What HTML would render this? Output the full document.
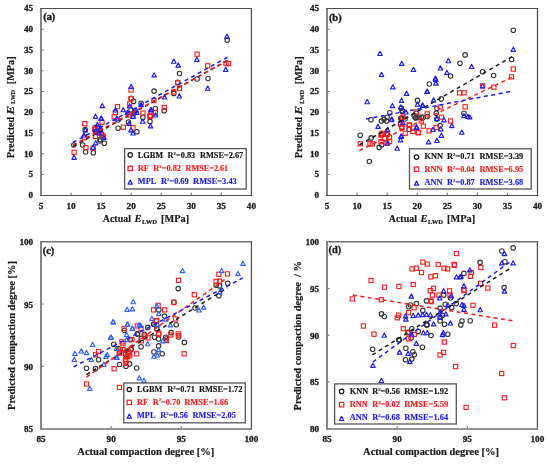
<!DOCTYPE html><html><head><meta charset="utf-8"><style>html,body{margin:0;padding:0;background:#fff;} svg{display:block;will-change:transform;} text{font-family:"Liberation Serif", serif;font-weight:bold;} .tl{font-size:9.2px;fill:#1a1a1a;stroke:#1a1a1a;stroke-width:0.3px;} .fr{fill:none;stroke:#666;stroke-width:1.5;stroke-linejoin:round;} .tk{stroke:#666;stroke-width:1;} .at{font-size:11px;fill:#222;} .pl{font-size:10.4px;fill:#1a1a1a;stroke:#1a1a1a;stroke-width:0.35px;} .lg{font-size:8.3px;}</style></head><body>
<svg width="550" height="464" viewBox="0 0 550 464">
<rect width="550" height="464" fill="#fff"/>
<text x="41.00" y="209.40" class="tl" text-anchor="middle">5</text>
<line x1="71.06" y1="195.2" x2="71.06" y2="192.7" class="tk"/>
<text x="71.06" y="209.40" class="tl" text-anchor="middle">10</text>
<line x1="101.11" y1="195.2" x2="101.11" y2="192.7" class="tk"/>
<text x="101.11" y="209.40" class="tl" text-anchor="middle">15</text>
<line x1="131.17" y1="195.2" x2="131.17" y2="192.7" class="tk"/>
<text x="131.17" y="209.40" class="tl" text-anchor="middle">20</text>
<line x1="161.23" y1="195.2" x2="161.23" y2="192.7" class="tk"/>
<text x="161.23" y="209.40" class="tl" text-anchor="middle">25</text>
<line x1="191.29" y1="195.2" x2="191.29" y2="192.7" class="tk"/>
<text x="191.29" y="209.40" class="tl" text-anchor="middle">30</text>
<line x1="221.34" y1="195.2" x2="221.34" y2="192.7" class="tk"/>
<text x="221.34" y="209.40" class="tl" text-anchor="middle">35</text>
<text x="251.40" y="209.40" class="tl" text-anchor="middle">40</text>
<text x="33.20" y="198.00" class="tl" text-anchor="end">0</text>
<line x1="41.0" y1="174.47" x2="43.5" y2="174.47" class="tk"/>
<text x="33.20" y="177.27" class="tl" text-anchor="end">5</text>
<line x1="41.0" y1="153.73" x2="43.5" y2="153.73" class="tk"/>
<text x="33.20" y="156.53" class="tl" text-anchor="end">10</text>
<line x1="41.0" y1="133.00" x2="43.5" y2="133.00" class="tk"/>
<text x="33.20" y="135.80" class="tl" text-anchor="end">15</text>
<line x1="41.0" y1="112.27" x2="43.5" y2="112.27" class="tk"/>
<text x="33.20" y="115.07" class="tl" text-anchor="end">20</text>
<line x1="41.0" y1="91.53" x2="43.5" y2="91.53" class="tk"/>
<text x="33.20" y="94.33" class="tl" text-anchor="end">25</text>
<line x1="41.0" y1="70.80" x2="43.5" y2="70.80" class="tk"/>
<text x="33.20" y="73.60" class="tl" text-anchor="end">30</text>
<line x1="41.0" y1="50.07" x2="43.5" y2="50.07" class="tk"/>
<text x="33.20" y="52.87" class="tl" text-anchor="end">35</text>
<line x1="41.0" y1="29.33" x2="43.5" y2="29.33" class="tk"/>
<text x="33.20" y="32.13" class="tl" text-anchor="end">40</text>
<text x="33.20" y="11.40" class="tl" text-anchor="end">45</text>
<line x1="41.0" y1="8.0" x2="41.0" y2="196.0" stroke="#858585" stroke-width="2.0"/>
<line x1="251.4" y1="8.0" x2="251.4" y2="196.0" stroke="#555" stroke-width="1.3"/>
<line x1="40.3" y1="8.5" x2="252.1" y2="8.5" stroke="#4d4d4d" stroke-width="1.15"/>
<line x1="40.3" y1="195.5" x2="252.1" y2="195.5" stroke="#4d4d4d" stroke-width="1.15"/>
<text x="327.00" y="209.40" class="tl" text-anchor="middle">5</text>
<line x1="357.07" y1="195.2" x2="357.07" y2="192.7" class="tk"/>
<text x="357.07" y="209.40" class="tl" text-anchor="middle">10</text>
<line x1="387.14" y1="195.2" x2="387.14" y2="192.7" class="tk"/>
<text x="387.14" y="209.40" class="tl" text-anchor="middle">15</text>
<line x1="417.21" y1="195.2" x2="417.21" y2="192.7" class="tk"/>
<text x="417.21" y="209.40" class="tl" text-anchor="middle">20</text>
<line x1="447.29" y1="195.2" x2="447.29" y2="192.7" class="tk"/>
<text x="447.29" y="209.40" class="tl" text-anchor="middle">25</text>
<line x1="477.36" y1="195.2" x2="477.36" y2="192.7" class="tk"/>
<text x="477.36" y="209.40" class="tl" text-anchor="middle">30</text>
<line x1="507.43" y1="195.2" x2="507.43" y2="192.7" class="tk"/>
<text x="507.43" y="209.40" class="tl" text-anchor="middle">35</text>
<text x="537.50" y="209.40" class="tl" text-anchor="middle">40</text>
<text x="319.20" y="198.00" class="tl" text-anchor="end">0</text>
<line x1="327.0" y1="174.47" x2="329.5" y2="174.47" class="tk"/>
<text x="319.20" y="177.27" class="tl" text-anchor="end">5</text>
<line x1="327.0" y1="153.73" x2="329.5" y2="153.73" class="tk"/>
<text x="319.20" y="156.53" class="tl" text-anchor="end">10</text>
<line x1="327.0" y1="133.00" x2="329.5" y2="133.00" class="tk"/>
<text x="319.20" y="135.80" class="tl" text-anchor="end">15</text>
<line x1="327.0" y1="112.27" x2="329.5" y2="112.27" class="tk"/>
<text x="319.20" y="115.07" class="tl" text-anchor="end">20</text>
<line x1="327.0" y1="91.53" x2="329.5" y2="91.53" class="tk"/>
<text x="319.20" y="94.33" class="tl" text-anchor="end">25</text>
<line x1="327.0" y1="70.80" x2="329.5" y2="70.80" class="tk"/>
<text x="319.20" y="73.60" class="tl" text-anchor="end">30</text>
<line x1="327.0" y1="50.07" x2="329.5" y2="50.07" class="tk"/>
<text x="319.20" y="52.87" class="tl" text-anchor="end">35</text>
<line x1="327.0" y1="29.33" x2="329.5" y2="29.33" class="tk"/>
<text x="319.20" y="32.13" class="tl" text-anchor="end">40</text>
<text x="319.20" y="11.40" class="tl" text-anchor="end">45</text>
<line x1="327.0" y1="8.0" x2="327.0" y2="196.0" stroke="#858585" stroke-width="2.0"/>
<line x1="537.5" y1="8.0" x2="537.5" y2="196.0" stroke="#555" stroke-width="1.3"/>
<line x1="326.3" y1="8.5" x2="538.2" y2="8.5" stroke="#4d4d4d" stroke-width="1.15"/>
<line x1="326.3" y1="195.5" x2="538.2" y2="195.5" stroke="#4d4d4d" stroke-width="1.15"/>
<text x="41.00" y="442.00" class="tl" text-anchor="middle">85</text>
<line x1="111.13" y1="428.6" x2="111.13" y2="426.1" class="tk"/>
<text x="111.13" y="442.00" class="tl" text-anchor="middle">90</text>
<line x1="181.27" y1="428.6" x2="181.27" y2="426.1" class="tk"/>
<text x="181.27" y="442.00" class="tl" text-anchor="middle">95</text>
<text x="251.40" y="442.00" class="tl" text-anchor="middle">100</text>
<text x="33.20" y="432.10" class="tl" text-anchor="end">85</text>
<line x1="41.0" y1="366.33" x2="43.5" y2="366.33" class="tk"/>
<text x="33.20" y="369.83" class="tl" text-anchor="end">90</text>
<line x1="41.0" y1="304.07" x2="43.5" y2="304.07" class="tk"/>
<text x="33.20" y="307.57" class="tl" text-anchor="end">95</text>
<text x="33.20" y="245.30" class="tl" text-anchor="end">100</text>
<line x1="41.0" y1="241.2" x2="41.0" y2="429.5" stroke="#858585" stroke-width="2.0"/>
<line x1="251.4" y1="241.2" x2="251.4" y2="429.5" stroke="#555" stroke-width="1.3"/>
<line x1="40.3" y1="241.7" x2="252.1" y2="241.7" stroke="#707070" stroke-width="1.6"/>
<line x1="40.3" y1="429.0" x2="252.1" y2="429.0" stroke="#707070" stroke-width="1.6"/>
<text x="327.00" y="442.00" class="tl" text-anchor="middle">85</text>
<line x1="397.13" y1="428.6" x2="397.13" y2="426.1" class="tk"/>
<text x="397.13" y="442.00" class="tl" text-anchor="middle">90</text>
<line x1="467.27" y1="428.6" x2="467.27" y2="426.1" class="tk"/>
<text x="467.27" y="442.00" class="tl" text-anchor="middle">95</text>
<text x="537.40" y="442.00" class="tl" text-anchor="middle">100</text>
<text x="319.20" y="432.10" class="tl" text-anchor="end">80</text>
<line x1="327.0" y1="381.90" x2="329.5" y2="381.90" class="tk"/>
<text x="319.20" y="385.40" class="tl" text-anchor="end">85</text>
<line x1="327.0" y1="335.20" x2="329.5" y2="335.20" class="tk"/>
<text x="319.20" y="338.70" class="tl" text-anchor="end">90</text>
<line x1="327.0" y1="288.50" x2="329.5" y2="288.50" class="tk"/>
<text x="319.20" y="292.00" class="tl" text-anchor="end">95</text>
<text x="319.20" y="245.30" class="tl" text-anchor="end">100</text>
<line x1="327.0" y1="241.2" x2="327.0" y2="429.5" stroke="#858585" stroke-width="2.0"/>
<line x1="537.4" y1="241.2" x2="537.4" y2="429.5" stroke="#555" stroke-width="1.3"/>
<line x1="326.3" y1="241.7" x2="538.1" y2="241.7" stroke="#707070" stroke-width="1.6"/>
<line x1="326.3" y1="429.0" x2="538.1" y2="429.0" stroke="#707070" stroke-width="1.6"/>
<text x="43.2" y="19.8" class="pl">(a)</text>
<text x="328.9" y="20.6" class="pl">(b)</text>
<text x="42.7" y="253.8" class="pl">(c)</text>
<text x="328.6" y="252.9" class="pl">(d)</text>
<text x="102.70" y="222.00" font-size="10.8px" fill="#1a1a1a" stroke="#1a1a1a" stroke-width="0.2" textLength="28.30" lengthAdjust="spacingAndGlyphs">Actual</text>
<text x="134.60" y="222.00" font-size="10.8px" fill="#1a1a1a" stroke="#1a1a1a" stroke-width="0.2" font-style="italic" textLength="7.00" lengthAdjust="spacingAndGlyphs">E</text>
<text x="142.00" y="223.70" font-size="6.4px" fill="#1a1a1a" stroke="#1a1a1a" stroke-width="0.2" textLength="15.00" lengthAdjust="spacingAndGlyphs">LWD</text>
<text x="161.10" y="222.00" font-size="10.8px" fill="#1a1a1a" stroke="#1a1a1a" stroke-width="0.2" textLength="28.00" lengthAdjust="spacingAndGlyphs">[MPa]</text>
<text x="388.70" y="222.00" font-size="10.8px" fill="#1a1a1a" stroke="#1a1a1a" stroke-width="0.2" textLength="28.30" lengthAdjust="spacingAndGlyphs">Actual</text>
<text x="420.60" y="222.00" font-size="10.8px" fill="#1a1a1a" stroke="#1a1a1a" stroke-width="0.2" font-style="italic" textLength="7.00" lengthAdjust="spacingAndGlyphs">E</text>
<text x="428.00" y="223.70" font-size="6.4px" fill="#1a1a1a" stroke="#1a1a1a" stroke-width="0.2" textLength="15.00" lengthAdjust="spacingAndGlyphs">LWD</text>
<text x="447.10" y="222.00" font-size="10.8px" fill="#1a1a1a" stroke="#1a1a1a" stroke-width="0.2" textLength="28.00" lengthAdjust="spacingAndGlyphs">[MPa]</text>
<g transform="translate(13.5,0) rotate(-90)">
<text x="-158.20" y="0.00" font-size="10.8px" fill="#1a1a1a" stroke="#1a1a1a" stroke-width="0.2" textLength="41.30" lengthAdjust="spacingAndGlyphs">Predicted</text>
<text x="-114.80" y="0.00" font-size="10.8px" fill="#1a1a1a" stroke="#1a1a1a" stroke-width="0.2" font-style="italic" textLength="9.00" lengthAdjust="spacingAndGlyphs">E</text>
<text x="-103.80" y="1.80" font-size="6.8px" fill="#1a1a1a" stroke="#1a1a1a" stroke-width="0.2" textLength="13.80" lengthAdjust="spacingAndGlyphs">LWD</text>
<text x="-84.20" y="0.00" font-size="10.8px" fill="#1a1a1a" stroke="#1a1a1a" stroke-width="0.2" textLength="27.80" lengthAdjust="spacingAndGlyphs">[MPa]</text>
</g>
<g transform="translate(302.1,0) rotate(-90)">
<text x="-158.20" y="0.00" font-size="10.8px" fill="#1a1a1a" stroke="#1a1a1a" stroke-width="0.2" textLength="41.30" lengthAdjust="spacingAndGlyphs">Predicted</text>
<text x="-114.80" y="0.00" font-size="10.8px" fill="#1a1a1a" stroke="#1a1a1a" stroke-width="0.2" font-style="italic" textLength="9.00" lengthAdjust="spacingAndGlyphs">E</text>
<text x="-103.80" y="1.80" font-size="6.8px" fill="#1a1a1a" stroke="#1a1a1a" stroke-width="0.2" textLength="13.80" lengthAdjust="spacingAndGlyphs">LWD</text>
<text x="-84.20" y="0.00" font-size="10.8px" fill="#1a1a1a" stroke="#1a1a1a" stroke-width="0.2" textLength="27.80" lengthAdjust="spacingAndGlyphs">[MPa]</text>
</g>
<text x="77.30" y="455.30" font-size="10.8px" fill="#1a1a1a" stroke="#1a1a1a" stroke-width="0.2" textLength="137.00" lengthAdjust="spacingAndGlyphs">Actual compaction degree [%]</text>
<text x="363.10" y="455.30" font-size="10.8px" fill="#1a1a1a" stroke="#1a1a1a" stroke-width="0.2" textLength="135.80" lengthAdjust="spacingAndGlyphs">Actual compaction degree [%]</text>
<g transform="translate(14.9,0) rotate(-90)">
<text x="-410.00" y="0.00" font-size="10.8px" fill="#1a1a1a" stroke="#1a1a1a" stroke-width="0.2" textLength="149.00" lengthAdjust="spacingAndGlyphs">Predicted compaction degree [%]</text>
</g>
<g transform="translate(301.0,0) rotate(-90)">
<text x="-410.40" y="0.00" font-size="10.8px" fill="#1a1a1a" stroke="#1a1a1a" stroke-width="0.2" textLength="149.40" lengthAdjust="spacingAndGlyphs">Predicted compaction degree &#160;/ %</text>
</g>
<circle cx="227.20" cy="40.10" r="2.25" fill="none" stroke="#333" stroke-width="1.1"/>
<circle cx="179.50" cy="73.50" r="2.25" fill="none" stroke="#333" stroke-width="1.1"/>
<circle cx="197.10" cy="79.00" r="2.25" fill="none" stroke="#333" stroke-width="1.1"/>
<circle cx="208.00" cy="78.50" r="2.25" fill="none" stroke="#333" stroke-width="1.1"/>
<circle cx="177.70" cy="82.40" r="2.25" fill="none" stroke="#333" stroke-width="1.1"/>
<circle cx="173.80" cy="93.40" r="2.25" fill="none" stroke="#333" stroke-width="1.1"/>
<circle cx="164.20" cy="110.80" r="2.25" fill="none" stroke="#333" stroke-width="1.1"/>
<circle cx="154.10" cy="91.10" r="2.25" fill="none" stroke="#333" stroke-width="1.1"/>
<circle cx="131.10" cy="98.20" r="2.25" fill="none" stroke="#333" stroke-width="1.1"/>
<circle cx="133.60" cy="101.40" r="2.25" fill="none" stroke="#333" stroke-width="1.1"/>
<circle cx="141.10" cy="103.30" r="2.25" fill="none" stroke="#333" stroke-width="1.1"/>
<circle cx="155.40" cy="108.50" r="2.25" fill="none" stroke="#333" stroke-width="1.1"/>
<circle cx="142.90" cy="117.40" r="2.25" fill="none" stroke="#333" stroke-width="1.1"/>
<circle cx="131.00" cy="109.70" r="2.25" fill="none" stroke="#333" stroke-width="1.1"/>
<circle cx="134.30" cy="112.90" r="2.25" fill="none" stroke="#333" stroke-width="1.1"/>
<circle cx="128.50" cy="122.00" r="2.25" fill="none" stroke="#333" stroke-width="1.1"/>
<circle cx="118.10" cy="120.00" r="2.25" fill="none" stroke="#333" stroke-width="1.1"/>
<circle cx="118.10" cy="128.20" r="2.25" fill="none" stroke="#333" stroke-width="1.1"/>
<circle cx="136.90" cy="131.70" r="2.25" fill="none" stroke="#333" stroke-width="1.1"/>
<circle cx="150.00" cy="121.40" r="2.25" fill="none" stroke="#333" stroke-width="1.1"/>
<circle cx="98.80" cy="127.30" r="2.25" fill="none" stroke="#333" stroke-width="1.1"/>
<circle cx="101.30" cy="133.80" r="2.25" fill="none" stroke="#333" stroke-width="1.1"/>
<circle cx="100.00" cy="139.60" r="2.25" fill="none" stroke="#333" stroke-width="1.1"/>
<circle cx="104.30" cy="143.30" r="2.25" fill="none" stroke="#333" stroke-width="1.1"/>
<circle cx="85.20" cy="129.60" r="2.25" fill="none" stroke="#333" stroke-width="1.1"/>
<circle cx="82.70" cy="145.00" r="2.25" fill="none" stroke="#333" stroke-width="1.1"/>
<circle cx="85.60" cy="152.00" r="2.25" fill="none" stroke="#333" stroke-width="1.1"/>
<circle cx="93.30" cy="152.80" r="2.25" fill="none" stroke="#333" stroke-width="1.1"/>
<circle cx="73.80" cy="145.00" r="2.25" fill="none" stroke="#333" stroke-width="1.1"/>
<circle cx="95.20" cy="127.50" r="2.25" fill="none" stroke="#333" stroke-width="1.1"/>
<circle cx="100.00" cy="141.00" r="2.25" fill="none" stroke="#333" stroke-width="1.1"/>
<rect x="223.90" y="61.50" width="4.20" height="4.20" fill="none" stroke="#ff1a1a" stroke-width="1.1"/>
<rect x="226.40" y="61.50" width="4.20" height="4.20" fill="none" stroke="#ff1a1a" stroke-width="1.1"/>
<rect x="195.00" y="52.10" width="4.20" height="4.20" fill="none" stroke="#ff1a1a" stroke-width="1.1"/>
<rect x="205.60" y="63.70" width="4.20" height="4.20" fill="none" stroke="#ff1a1a" stroke-width="1.1"/>
<rect x="175.60" y="80.70" width="4.20" height="4.20" fill="none" stroke="#ff1a1a" stroke-width="1.1"/>
<rect x="177.40" y="86.20" width="4.20" height="4.20" fill="none" stroke="#ff1a1a" stroke-width="1.1"/>
<rect x="171.70" y="89.90" width="4.20" height="4.20" fill="none" stroke="#ff1a1a" stroke-width="1.1"/>
<rect x="162.20" y="105.40" width="4.20" height="4.20" fill="none" stroke="#ff1a1a" stroke-width="1.1"/>
<rect x="151.80" y="98.40" width="4.20" height="4.20" fill="none" stroke="#ff1a1a" stroke-width="1.1"/>
<rect x="129.00" y="87.90" width="4.20" height="4.20" fill="none" stroke="#ff1a1a" stroke-width="1.1"/>
<rect x="129.00" y="96.70" width="4.20" height="4.20" fill="none" stroke="#ff1a1a" stroke-width="1.1"/>
<rect x="115.40" y="104.50" width="4.20" height="4.20" fill="none" stroke="#ff1a1a" stroke-width="1.1"/>
<rect x="127.60" y="101.90" width="4.20" height="4.20" fill="none" stroke="#ff1a1a" stroke-width="1.1"/>
<rect x="113.30" y="110.40" width="4.20" height="4.20" fill="none" stroke="#ff1a1a" stroke-width="1.1"/>
<rect x="112.10" y="114.70" width="4.20" height="4.20" fill="none" stroke="#ff1a1a" stroke-width="1.1"/>
<rect x="127.00" y="112.80" width="4.20" height="4.20" fill="none" stroke="#ff1a1a" stroke-width="1.1"/>
<rect x="140.80" y="111.10" width="4.20" height="4.20" fill="none" stroke="#ff1a1a" stroke-width="1.1"/>
<rect x="148.40" y="113.50" width="4.20" height="4.20" fill="none" stroke="#ff1a1a" stroke-width="1.1"/>
<rect x="153.30" y="110.70" width="4.20" height="4.20" fill="none" stroke="#ff1a1a" stroke-width="1.1"/>
<rect x="148.80" y="110.20" width="4.20" height="4.20" fill="none" stroke="#ff1a1a" stroke-width="1.1"/>
<rect x="147.70" y="114.30" width="4.20" height="4.20" fill="none" stroke="#ff1a1a" stroke-width="1.1"/>
<rect x="121.20" y="125.10" width="4.20" height="4.20" fill="none" stroke="#ff1a1a" stroke-width="1.1"/>
<rect x="130.90" y="125.70" width="4.20" height="4.20" fill="none" stroke="#ff1a1a" stroke-width="1.1"/>
<rect x="130.90" y="114.10" width="4.20" height="4.20" fill="none" stroke="#ff1a1a" stroke-width="1.1"/>
<rect x="99.90" y="120.30" width="4.20" height="4.20" fill="none" stroke="#ff1a1a" stroke-width="1.1"/>
<rect x="82.70" y="121.60" width="4.20" height="4.20" fill="none" stroke="#ff1a1a" stroke-width="1.1"/>
<rect x="93.40" y="127.10" width="4.20" height="4.20" fill="none" stroke="#ff1a1a" stroke-width="1.1"/>
<rect x="96.70" y="130.40" width="4.20" height="4.20" fill="none" stroke="#ff1a1a" stroke-width="1.1"/>
<rect x="93.40" y="134.40" width="4.20" height="4.20" fill="none" stroke="#ff1a1a" stroke-width="1.1"/>
<rect x="101.20" y="134.20" width="4.20" height="4.20" fill="none" stroke="#ff1a1a" stroke-width="1.1"/>
<rect x="82.40" y="135.50" width="4.20" height="4.20" fill="none" stroke="#ff1a1a" stroke-width="1.1"/>
<rect x="83.80" y="145.60" width="4.20" height="4.20" fill="none" stroke="#ff1a1a" stroke-width="1.1"/>
<rect x="91.10" y="146.10" width="4.20" height="4.20" fill="none" stroke="#ff1a1a" stroke-width="1.1"/>
<rect x="72.00" y="150.20" width="4.20" height="4.20" fill="none" stroke="#ff1a1a" stroke-width="1.1"/>
<rect x="92.50" y="127.30" width="4.20" height="4.20" fill="none" stroke="#ff1a1a" stroke-width="1.1"/>
<rect x="97.90" y="128.40" width="4.20" height="4.20" fill="none" stroke="#ff1a1a" stroke-width="1.1"/>
<rect x="99.80" y="132.80" width="4.20" height="4.20" fill="none" stroke="#ff1a1a" stroke-width="1.1"/>
<path d="M226.90,34.16 L229.15,38.32 L224.65,38.32 Z" fill="none" stroke="#1a1aff" stroke-width="1.15" stroke-linejoin="round"/>
<path d="M196.80,57.16 L199.05,61.32 L194.55,61.32 Z" fill="none" stroke="#1a1aff" stroke-width="1.15" stroke-linejoin="round"/>
<path d="M173.80,59.06 L176.05,63.23 L171.55,63.23 Z" fill="none" stroke="#1a1aff" stroke-width="1.15" stroke-linejoin="round"/>
<path d="M178.20,62.96 L180.45,67.12 L175.95,67.12 Z" fill="none" stroke="#1a1aff" stroke-width="1.15" stroke-linejoin="round"/>
<path d="M225.70,67.36 L227.95,71.53 L223.45,71.53 Z" fill="none" stroke="#1a1aff" stroke-width="1.15" stroke-linejoin="round"/>
<path d="M207.70,86.06 L209.95,90.23 L205.45,90.23 Z" fill="none" stroke="#1a1aff" stroke-width="1.15" stroke-linejoin="round"/>
<path d="M179.30,93.86 L181.55,98.03 L177.05,98.03 Z" fill="none" stroke="#1a1aff" stroke-width="1.15" stroke-linejoin="round"/>
<path d="M164.50,94.86 L166.75,99.03 L162.25,99.03 Z" fill="none" stroke="#1a1aff" stroke-width="1.15" stroke-linejoin="round"/>
<path d="M154.10,72.76 L156.35,76.93 L151.85,76.93 Z" fill="none" stroke="#1a1aff" stroke-width="1.15" stroke-linejoin="round"/>
<path d="M131.10,84.36 L133.35,88.53 L128.85,88.53 Z" fill="none" stroke="#1a1aff" stroke-width="1.15" stroke-linejoin="round"/>
<path d="M141.10,102.46 L143.35,106.62 L138.85,106.62 Z" fill="none" stroke="#1a1aff" stroke-width="1.15" stroke-linejoin="round"/>
<path d="M123.20,107.56 L125.45,111.73 L120.95,111.73 Z" fill="none" stroke="#1a1aff" stroke-width="1.15" stroke-linejoin="round"/>
<path d="M102.30,103.46 L104.55,107.62 L100.05,107.62 Z" fill="none" stroke="#1a1aff" stroke-width="1.15" stroke-linejoin="round"/>
<path d="M129.60,103.86 L131.85,108.03 L127.35,108.03 Z" fill="none" stroke="#1a1aff" stroke-width="1.15" stroke-linejoin="round"/>
<path d="M115.40,107.86 L117.65,112.03 L113.15,112.03 Z" fill="none" stroke="#1a1aff" stroke-width="1.15" stroke-linejoin="round"/>
<path d="M136.10,107.66 L138.35,111.83 L133.85,111.83 Z" fill="none" stroke="#1a1aff" stroke-width="1.15" stroke-linejoin="round"/>
<path d="M151.10,107.86 L153.35,112.03 L148.85,112.03 Z" fill="none" stroke="#1a1aff" stroke-width="1.15" stroke-linejoin="round"/>
<path d="M155.50,112.86 L157.75,117.03 L153.25,117.03 Z" fill="none" stroke="#1a1aff" stroke-width="1.15" stroke-linejoin="round"/>
<path d="M127.50,110.26 L129.75,114.43 L125.25,114.43 Z" fill="none" stroke="#1a1aff" stroke-width="1.15" stroke-linejoin="round"/>
<path d="M133.00,114.16 L135.25,118.33 L130.75,118.33 Z" fill="none" stroke="#1a1aff" stroke-width="1.15" stroke-linejoin="round"/>
<path d="M136.90,110.16 L139.15,114.33 L134.65,114.33 Z" fill="none" stroke="#1a1aff" stroke-width="1.15" stroke-linejoin="round"/>
<path d="M116.80,115.96 L119.05,120.12 L114.55,120.12 Z" fill="none" stroke="#1a1aff" stroke-width="1.15" stroke-linejoin="round"/>
<path d="M142.70,119.06 L144.95,123.23 L140.45,123.23 Z" fill="none" stroke="#1a1aff" stroke-width="1.15" stroke-linejoin="round"/>
<path d="M129.10,121.16 L131.35,125.33 L126.85,125.33 Z" fill="none" stroke="#1a1aff" stroke-width="1.15" stroke-linejoin="round"/>
<path d="M131.00,127.66 L133.25,131.83 L128.75,131.83 Z" fill="none" stroke="#1a1aff" stroke-width="1.15" stroke-linejoin="round"/>
<path d="M133.00,130.86 L135.25,135.03 L130.75,135.03 Z" fill="none" stroke="#1a1aff" stroke-width="1.15" stroke-linejoin="round"/>
<path d="M150.50,123.76 L152.75,127.93 L148.25,127.93 Z" fill="none" stroke="#1a1aff" stroke-width="1.15" stroke-linejoin="round"/>
<path d="M150.90,107.36 L153.15,111.53 L148.65,111.53 Z" fill="none" stroke="#1a1aff" stroke-width="1.15" stroke-linejoin="round"/>
<path d="M95.50,114.16 L97.75,118.33 L93.25,118.33 Z" fill="none" stroke="#1a1aff" stroke-width="1.15" stroke-linejoin="round"/>
<path d="M101.10,116.16 L103.35,120.33 L98.85,120.33 Z" fill="none" stroke="#1a1aff" stroke-width="1.15" stroke-linejoin="round"/>
<path d="M97.50,122.36 L99.75,126.53 L95.25,126.53 Z" fill="none" stroke="#1a1aff" stroke-width="1.15" stroke-linejoin="round"/>
<path d="M85.20,127.76 L87.45,131.93 L82.95,131.93 Z" fill="none" stroke="#1a1aff" stroke-width="1.15" stroke-linejoin="round"/>
<path d="M100.00,126.46 L102.25,130.62 L97.75,130.62 Z" fill="none" stroke="#1a1aff" stroke-width="1.15" stroke-linejoin="round"/>
<path d="M103.90,135.46 L106.15,139.62 L101.65,139.62 Z" fill="none" stroke="#1a1aff" stroke-width="1.15" stroke-linejoin="round"/>
<path d="M95.70,140.66 L97.95,144.83 L93.45,144.83 Z" fill="none" stroke="#1a1aff" stroke-width="1.15" stroke-linejoin="round"/>
<path d="M83.90,132.86 L86.15,137.03 L81.65,137.03 Z" fill="none" stroke="#1a1aff" stroke-width="1.15" stroke-linejoin="round"/>
<path d="M93.00,145.16 L95.25,149.33 L90.75,149.33 Z" fill="none" stroke="#1a1aff" stroke-width="1.15" stroke-linejoin="round"/>
<path d="M74.10,155.16 L76.35,159.33 L71.85,159.33 Z" fill="none" stroke="#1a1aff" stroke-width="1.15" stroke-linejoin="round"/>
<path d="M101.30,115.96 L103.55,120.12 L99.05,120.12 Z" fill="none" stroke="#1a1aff" stroke-width="1.15" stroke-linejoin="round"/>
<path d="M100.60,125.66 L102.85,129.82 L98.35,129.82 Z" fill="none" stroke="#1a1aff" stroke-width="1.15" stroke-linejoin="round"/>
<path d="M100.50,127.86 L102.75,132.03 L98.25,132.03 Z" fill="none" stroke="#1a1aff" stroke-width="1.15" stroke-linejoin="round"/>
<path d="M99.00,130.86 L101.25,135.03 L96.75,135.03 Z" fill="none" stroke="#1a1aff" stroke-width="1.15" stroke-linejoin="round"/>
<path d="M95.80,128.56 L98.05,132.72 L93.55,132.72 Z" fill="none" stroke="#1a1aff" stroke-width="1.15" stroke-linejoin="round"/>
<line x1="73" y1="146.5" x2="228" y2="60" stroke="#1a1a1a" stroke-width="1.5" stroke-dasharray="4 3.5"/>
<line x1="73" y1="145" x2="228" y2="60.5" stroke="#ff1a1a" stroke-width="1.5" stroke-dasharray="4 3.5"/>
<line x1="73" y1="142.5" x2="228" y2="57" stroke="#1a1aff" stroke-width="1.5" stroke-dasharray="4 3.5"/>
<circle cx="513.30" cy="30.30" r="2.25" fill="none" stroke="#333" stroke-width="1.1"/>
<circle cx="465.10" cy="54.90" r="2.25" fill="none" stroke="#333" stroke-width="1.1"/>
<circle cx="460.00" cy="63.30" r="2.25" fill="none" stroke="#333" stroke-width="1.1"/>
<circle cx="450.50" cy="76.00" r="2.25" fill="none" stroke="#333" stroke-width="1.1"/>
<circle cx="482.50" cy="71.70" r="2.25" fill="none" stroke="#333" stroke-width="1.1"/>
<circle cx="493.60" cy="75.50" r="2.25" fill="none" stroke="#333" stroke-width="1.1"/>
<circle cx="511.60" cy="59.50" r="2.25" fill="none" stroke="#333" stroke-width="1.1"/>
<circle cx="441.30" cy="98.90" r="2.25" fill="none" stroke="#333" stroke-width="1.1"/>
<circle cx="429.30" cy="84.00" r="2.25" fill="none" stroke="#333" stroke-width="1.1"/>
<circle cx="417.50" cy="100.40" r="2.25" fill="none" stroke="#333" stroke-width="1.1"/>
<circle cx="436.90" cy="108.50" r="2.25" fill="none" stroke="#333" stroke-width="1.1"/>
<circle cx="436.20" cy="113.30" r="2.25" fill="none" stroke="#333" stroke-width="1.1"/>
<circle cx="436.90" cy="119.10" r="2.25" fill="none" stroke="#333" stroke-width="1.1"/>
<circle cx="440.10" cy="125.60" r="2.25" fill="none" stroke="#333" stroke-width="1.1"/>
<circle cx="464.00" cy="113.20" r="2.25" fill="none" stroke="#333" stroke-width="1.1"/>
<circle cx="401.30" cy="108.10" r="2.25" fill="none" stroke="#333" stroke-width="1.1"/>
<circle cx="402.60" cy="110.70" r="2.25" fill="none" stroke="#333" stroke-width="1.1"/>
<circle cx="416.20" cy="113.30" r="2.25" fill="none" stroke="#333" stroke-width="1.1"/>
<circle cx="414.20" cy="115.90" r="2.25" fill="none" stroke="#333" stroke-width="1.1"/>
<circle cx="415.50" cy="117.80" r="2.25" fill="none" stroke="#333" stroke-width="1.1"/>
<circle cx="418.10" cy="117.20" r="2.25" fill="none" stroke="#333" stroke-width="1.1"/>
<circle cx="421.30" cy="117.20" r="2.25" fill="none" stroke="#333" stroke-width="1.1"/>
<circle cx="423.30" cy="117.20" r="2.25" fill="none" stroke="#333" stroke-width="1.1"/>
<circle cx="427.20" cy="116.50" r="2.25" fill="none" stroke="#333" stroke-width="1.1"/>
<circle cx="409.10" cy="129.50" r="2.25" fill="none" stroke="#333" stroke-width="1.1"/>
<circle cx="401.80" cy="118.40" r="2.25" fill="none" stroke="#333" stroke-width="1.1"/>
<circle cx="405.00" cy="119.00" r="2.25" fill="none" stroke="#333" stroke-width="1.1"/>
<circle cx="389.80" cy="112.70" r="2.25" fill="none" stroke="#333" stroke-width="1.1"/>
<circle cx="387.20" cy="117.20" r="2.25" fill="none" stroke="#333" stroke-width="1.1"/>
<circle cx="384.00" cy="119.20" r="2.25" fill="none" stroke="#333" stroke-width="1.1"/>
<circle cx="381.40" cy="121.10" r="2.25" fill="none" stroke="#333" stroke-width="1.1"/>
<circle cx="386.60" cy="121.10" r="2.25" fill="none" stroke="#333" stroke-width="1.1"/>
<circle cx="371.00" cy="119.80" r="2.25" fill="none" stroke="#333" stroke-width="1.1"/>
<circle cx="360.20" cy="135.30" r="2.25" fill="none" stroke="#333" stroke-width="1.1"/>
<circle cx="371.20" cy="137.90" r="2.25" fill="none" stroke="#333" stroke-width="1.1"/>
<circle cx="369.40" cy="161.50" r="2.25" fill="none" stroke="#333" stroke-width="1.1"/>
<circle cx="379.10" cy="147.40" r="2.25" fill="none" stroke="#333" stroke-width="1.1"/>
<circle cx="381.70" cy="144.90" r="2.25" fill="none" stroke="#333" stroke-width="1.1"/>
<circle cx="387.50" cy="134.60" r="2.25" fill="none" stroke="#333" stroke-width="1.1"/>
<circle cx="400.80" cy="118.50" r="2.25" fill="none" stroke="#333" stroke-width="1.1"/>
<circle cx="402.10" cy="111.40" r="2.25" fill="none" stroke="#333" stroke-width="1.1"/>
<circle cx="416.00" cy="117.80" r="2.25" fill="none" stroke="#333" stroke-width="1.1"/>
<rect x="511.20" y="67.00" width="4.20" height="4.20" fill="none" stroke="#ff1a1a" stroke-width="1.1"/>
<rect x="509.40" y="74.70" width="4.20" height="4.20" fill="none" stroke="#ff1a1a" stroke-width="1.1"/>
<rect x="457.50" y="90.70" width="4.20" height="4.20" fill="none" stroke="#ff1a1a" stroke-width="1.1"/>
<rect x="462.00" y="90.70" width="4.20" height="4.20" fill="none" stroke="#ff1a1a" stroke-width="1.1"/>
<rect x="463.10" y="104.70" width="4.20" height="4.20" fill="none" stroke="#ff1a1a" stroke-width="1.1"/>
<rect x="438.10" y="104.90" width="4.20" height="4.20" fill="none" stroke="#ff1a1a" stroke-width="1.1"/>
<rect x="491.80" y="85.10" width="4.20" height="4.20" fill="none" stroke="#ff1a1a" stroke-width="1.1"/>
<rect x="480.50" y="83.80" width="4.20" height="4.20" fill="none" stroke="#ff1a1a" stroke-width="1.1"/>
<rect x="400.70" y="115.10" width="4.20" height="4.20" fill="none" stroke="#ff1a1a" stroke-width="1.1"/>
<rect x="414.70" y="109.90" width="4.20" height="4.20" fill="none" stroke="#ff1a1a" stroke-width="1.1"/>
<rect x="425.10" y="111.80" width="4.20" height="4.20" fill="none" stroke="#ff1a1a" stroke-width="1.1"/>
<rect x="419.20" y="118.90" width="4.20" height="4.20" fill="none" stroke="#ff1a1a" stroke-width="1.1"/>
<rect x="421.20" y="124.10" width="4.20" height="4.20" fill="none" stroke="#ff1a1a" stroke-width="1.1"/>
<rect x="416.00" y="130.60" width="4.20" height="4.20" fill="none" stroke="#ff1a1a" stroke-width="1.1"/>
<rect x="407.00" y="122.80" width="4.20" height="4.20" fill="none" stroke="#ff1a1a" stroke-width="1.1"/>
<rect x="403.10" y="131.20" width="4.20" height="4.20" fill="none" stroke="#ff1a1a" stroke-width="1.1"/>
<rect x="399.80" y="125.40" width="4.20" height="4.20" fill="none" stroke="#ff1a1a" stroke-width="1.1"/>
<rect x="410.80" y="129.30" width="4.20" height="4.20" fill="none" stroke="#ff1a1a" stroke-width="1.1"/>
<rect x="427.00" y="128.70" width="4.20" height="4.20" fill="none" stroke="#ff1a1a" stroke-width="1.1"/>
<rect x="434.10" y="125.40" width="4.20" height="4.20" fill="none" stroke="#ff1a1a" stroke-width="1.1"/>
<rect x="439.30" y="115.10" width="4.20" height="4.20" fill="none" stroke="#ff1a1a" stroke-width="1.1"/>
<rect x="448.40" y="118.90" width="4.20" height="4.20" fill="none" stroke="#ff1a1a" stroke-width="1.1"/>
<rect x="399.70" y="124.70" width="4.20" height="4.20" fill="none" stroke="#ff1a1a" stroke-width="1.1"/>
<rect x="398.40" y="122.10" width="4.20" height="4.20" fill="none" stroke="#ff1a1a" stroke-width="1.1"/>
<rect x="407.40" y="123.40" width="4.20" height="4.20" fill="none" stroke="#ff1a1a" stroke-width="1.1"/>
<rect x="411.30" y="126.00" width="4.20" height="4.20" fill="none" stroke="#ff1a1a" stroke-width="1.1"/>
<rect x="416.50" y="130.50" width="4.20" height="4.20" fill="none" stroke="#ff1a1a" stroke-width="1.1"/>
<rect x="380.20" y="131.20" width="4.20" height="4.20" fill="none" stroke="#ff1a1a" stroke-width="1.1"/>
<rect x="378.90" y="133.10" width="4.20" height="4.20" fill="none" stroke="#ff1a1a" stroke-width="1.1"/>
<rect x="387.40" y="135.10" width="4.20" height="4.20" fill="none" stroke="#ff1a1a" stroke-width="1.1"/>
<rect x="378.90" y="139.60" width="4.20" height="4.20" fill="none" stroke="#ff1a1a" stroke-width="1.1"/>
<rect x="384.80" y="140.90" width="4.20" height="4.20" fill="none" stroke="#ff1a1a" stroke-width="1.1"/>
<rect x="358.10" y="141.70" width="4.20" height="4.20" fill="none" stroke="#ff1a1a" stroke-width="1.1"/>
<rect x="367.90" y="141.70" width="4.20" height="4.20" fill="none" stroke="#ff1a1a" stroke-width="1.1"/>
<rect x="370.20" y="141.70" width="4.20" height="4.20" fill="none" stroke="#ff1a1a" stroke-width="1.1"/>
<rect x="379.60" y="132.60" width="4.20" height="4.20" fill="none" stroke="#ff1a1a" stroke-width="1.1"/>
<rect x="384.40" y="131.90" width="4.20" height="4.20" fill="none" stroke="#ff1a1a" stroke-width="1.1"/>
<rect x="387.50" y="139.40" width="4.20" height="4.20" fill="none" stroke="#ff1a1a" stroke-width="1.1"/>
<rect x="382.40" y="136.40" width="4.20" height="4.20" fill="none" stroke="#ff1a1a" stroke-width="1.1"/>
<path d="M380.00,51.36 L382.25,55.52 L377.75,55.52 Z" fill="none" stroke="#1a1aff" stroke-width="1.15" stroke-linejoin="round"/>
<path d="M401.80,61.16 L404.05,65.33 L399.55,65.33 Z" fill="none" stroke="#1a1aff" stroke-width="1.15" stroke-linejoin="round"/>
<path d="M413.50,67.36 L415.75,71.53 L411.25,71.53 Z" fill="none" stroke="#1a1aff" stroke-width="1.15" stroke-linejoin="round"/>
<path d="M381.50,72.36 L383.75,76.53 L379.25,76.53 Z" fill="none" stroke="#1a1aff" stroke-width="1.15" stroke-linejoin="round"/>
<path d="M448.40,58.56 L450.65,62.73 L446.15,62.73 Z" fill="none" stroke="#1a1aff" stroke-width="1.15" stroke-linejoin="round"/>
<path d="M440.40,65.86 L442.65,70.03 L438.15,70.03 Z" fill="none" stroke="#1a1aff" stroke-width="1.15" stroke-linejoin="round"/>
<path d="M471.60,64.36 L473.85,68.53 L469.35,68.53 Z" fill="none" stroke="#1a1aff" stroke-width="1.15" stroke-linejoin="round"/>
<path d="M446.90,70.26 L449.15,74.43 L444.65,74.43 Z" fill="none" stroke="#1a1aff" stroke-width="1.15" stroke-linejoin="round"/>
<path d="M435.30,76.06 L437.55,80.23 L433.05,80.23 Z" fill="none" stroke="#1a1aff" stroke-width="1.15" stroke-linejoin="round"/>
<path d="M513.30,47.16 L515.55,51.32 L511.05,51.32 Z" fill="none" stroke="#1a1aff" stroke-width="1.15" stroke-linejoin="round"/>
<path d="M435.80,77.16 L438.05,81.33 L433.55,81.33 Z" fill="none" stroke="#1a1aff" stroke-width="1.15" stroke-linejoin="round"/>
<path d="M435.80,80.96 L438.05,85.12 L433.55,85.12 Z" fill="none" stroke="#1a1aff" stroke-width="1.15" stroke-linejoin="round"/>
<path d="M427.10,89.16 L429.35,93.33 L424.85,93.33 Z" fill="none" stroke="#1a1aff" stroke-width="1.15" stroke-linejoin="round"/>
<path d="M433.60,97.86 L435.85,102.03 L431.35,102.03 Z" fill="none" stroke="#1a1aff" stroke-width="1.15" stroke-linejoin="round"/>
<path d="M422.70,102.76 L424.95,106.93 L420.45,106.93 Z" fill="none" stroke="#1a1aff" stroke-width="1.15" stroke-linejoin="round"/>
<path d="M482.60,83.76 L484.85,87.93 L480.35,87.93 Z" fill="none" stroke="#1a1aff" stroke-width="1.15" stroke-linejoin="round"/>
<path d="M463.90,113.46 L466.15,117.62 L461.65,117.62 Z" fill="none" stroke="#1a1aff" stroke-width="1.15" stroke-linejoin="round"/>
<path d="M469.70,114.76 L471.95,118.93 L467.45,118.93 Z" fill="none" stroke="#1a1aff" stroke-width="1.15" stroke-linejoin="round"/>
<path d="M392.80,84.66 L395.05,88.83 L390.55,88.83 Z" fill="none" stroke="#1a1aff" stroke-width="1.15" stroke-linejoin="round"/>
<path d="M406.60,91.16 L408.85,95.33 L404.35,95.33 Z" fill="none" stroke="#1a1aff" stroke-width="1.15" stroke-linejoin="round"/>
<path d="M367.20,99.56 L369.45,103.73 L364.95,103.73 Z" fill="none" stroke="#1a1aff" stroke-width="1.15" stroke-linejoin="round"/>
<path d="M401.50,98.26 L403.75,102.43 L399.25,102.43 Z" fill="none" stroke="#1a1aff" stroke-width="1.15" stroke-linejoin="round"/>
<path d="M392.40,103.46 L394.65,107.62 L390.15,107.62 Z" fill="none" stroke="#1a1aff" stroke-width="1.15" stroke-linejoin="round"/>
<path d="M400.80,104.76 L403.05,108.93 L398.55,108.93 Z" fill="none" stroke="#1a1aff" stroke-width="1.15" stroke-linejoin="round"/>
<path d="M406.00,109.86 L408.25,114.03 L403.75,114.03 Z" fill="none" stroke="#1a1aff" stroke-width="1.15" stroke-linejoin="round"/>
<path d="M391.80,117.06 L394.05,121.23 L389.55,121.23 Z" fill="none" stroke="#1a1aff" stroke-width="1.15" stroke-linejoin="round"/>
<path d="M402.80,120.26 L405.05,124.43 L400.55,124.43 Z" fill="none" stroke="#1a1aff" stroke-width="1.15" stroke-linejoin="round"/>
<path d="M378.00,124.26 L380.25,128.43 L375.75,128.43 Z" fill="none" stroke="#1a1aff" stroke-width="1.15" stroke-linejoin="round"/>
<path d="M391.40,117.56 L393.65,121.73 L389.15,121.73 Z" fill="none" stroke="#1a1aff" stroke-width="1.15" stroke-linejoin="round"/>
<path d="M387.50,127.26 L389.75,131.43 L385.25,131.43 Z" fill="none" stroke="#1a1aff" stroke-width="1.15" stroke-linejoin="round"/>
<path d="M387.50,140.86 L389.75,145.03 L385.25,145.03 Z" fill="none" stroke="#1a1aff" stroke-width="1.15" stroke-linejoin="round"/>
<path d="M401.10,134.36 L403.35,138.53 L398.85,138.53 Z" fill="none" stroke="#1a1aff" stroke-width="1.15" stroke-linejoin="round"/>
<path d="M400.50,137.66 L402.75,141.83 L398.25,141.83 Z" fill="none" stroke="#1a1aff" stroke-width="1.15" stroke-linejoin="round"/>
<path d="M397.20,146.06 L399.45,150.22 L394.95,150.22 Z" fill="none" stroke="#1a1aff" stroke-width="1.15" stroke-linejoin="round"/>
<path d="M416.60,124.66 L418.85,128.82 L414.35,128.82 Z" fill="none" stroke="#1a1aff" stroke-width="1.15" stroke-linejoin="round"/>
<path d="M417.50,102.06 L419.75,106.23 L415.25,106.23 Z" fill="none" stroke="#1a1aff" stroke-width="1.15" stroke-linejoin="round"/>
<path d="M422.60,103.36 L424.85,107.53 L420.35,107.53 Z" fill="none" stroke="#1a1aff" stroke-width="1.15" stroke-linejoin="round"/>
<path d="M401.30,133.76 L403.55,137.93 L399.05,137.93 Z" fill="none" stroke="#1a1aff" stroke-width="1.15" stroke-linejoin="round"/>
<path d="M416.80,125.36 L419.05,129.53 L414.55,129.53 Z" fill="none" stroke="#1a1aff" stroke-width="1.15" stroke-linejoin="round"/>
<path d="M433.00,127.36 L435.25,131.53 L430.75,131.53 Z" fill="none" stroke="#1a1aff" stroke-width="1.15" stroke-linejoin="round"/>
<path d="M440.80,126.66 L443.05,130.83 L438.55,130.83 Z" fill="none" stroke="#1a1aff" stroke-width="1.15" stroke-linejoin="round"/>
<path d="M441.40,133.16 L443.65,137.33 L439.15,137.33 Z" fill="none" stroke="#1a1aff" stroke-width="1.15" stroke-linejoin="round"/>
<path d="M436.90,116.36 L439.15,120.53 L434.65,120.53 Z" fill="none" stroke="#1a1aff" stroke-width="1.15" stroke-linejoin="round"/>
<path d="M444.00,117.66 L446.25,121.83 L441.75,121.83 Z" fill="none" stroke="#1a1aff" stroke-width="1.15" stroke-linejoin="round"/>
<path d="M451.80,123.46 L454.05,127.62 L449.55,127.62 Z" fill="none" stroke="#1a1aff" stroke-width="1.15" stroke-linejoin="round"/>
<path d="M461.80,130.06 L464.05,134.22 L459.55,134.22 Z" fill="none" stroke="#1a1aff" stroke-width="1.15" stroke-linejoin="round"/>
<path d="M428.50,139.66 L430.75,143.83 L426.25,143.83 Z" fill="none" stroke="#1a1aff" stroke-width="1.15" stroke-linejoin="round"/>
<path d="M436.90,138.36 L439.15,142.53 L434.65,142.53 Z" fill="none" stroke="#1a1aff" stroke-width="1.15" stroke-linejoin="round"/>
<path d="M467.90,114.36 L470.15,118.53 L465.65,118.53 Z" fill="none" stroke="#1a1aff" stroke-width="1.15" stroke-linejoin="round"/>
<path d="M427.20,89.16 L429.45,93.33 L424.95,93.33 Z" fill="none" stroke="#1a1aff" stroke-width="1.15" stroke-linejoin="round"/>
<line x1="359.4" y1="145" x2="512.7" y2="56.4" stroke="#1a1a1a" stroke-width="1.5" stroke-dasharray="4 3.5"/>
<line x1="359.4" y1="150.5" x2="513" y2="76.8" stroke="#ff1a1a" stroke-width="1.5" stroke-dasharray="4 3.5"/>
<line x1="366" y1="119" x2="513" y2="91" stroke="#1a1aff" stroke-width="1.5" stroke-dasharray="4 3.5"/>
<circle cx="227.70" cy="283.20" r="2.25" fill="none" stroke="#333" stroke-width="1.1"/>
<circle cx="216.10" cy="285.20" r="2.25" fill="none" stroke="#333" stroke-width="1.1"/>
<circle cx="219.50" cy="285.90" r="2.25" fill="none" stroke="#333" stroke-width="1.1"/>
<circle cx="218.90" cy="295.70" r="2.25" fill="none" stroke="#333" stroke-width="1.1"/>
<circle cx="178.20" cy="288.60" r="2.25" fill="none" stroke="#333" stroke-width="1.1"/>
<circle cx="173.90" cy="302.40" r="2.25" fill="none" stroke="#333" stroke-width="1.1"/>
<circle cx="195.00" cy="308.00" r="2.25" fill="none" stroke="#333" stroke-width="1.1"/>
<circle cx="158.80" cy="309.90" r="2.25" fill="none" stroke="#333" stroke-width="1.1"/>
<circle cx="164.60" cy="316.10" r="2.25" fill="none" stroke="#333" stroke-width="1.1"/>
<circle cx="153.60" cy="324.20" r="2.25" fill="none" stroke="#333" stroke-width="1.1"/>
<circle cx="147.80" cy="327.40" r="2.25" fill="none" stroke="#333" stroke-width="1.1"/>
<circle cx="176.20" cy="324.80" r="2.25" fill="none" stroke="#333" stroke-width="1.1"/>
<circle cx="171.10" cy="332.60" r="2.25" fill="none" stroke="#333" stroke-width="1.1"/>
<circle cx="178.60" cy="337.00" r="2.25" fill="none" stroke="#333" stroke-width="1.1"/>
<circle cx="184.40" cy="342.40" r="2.25" fill="none" stroke="#333" stroke-width="1.1"/>
<circle cx="166.30" cy="339.00" r="2.25" fill="none" stroke="#333" stroke-width="1.1"/>
<circle cx="113.70" cy="344.20" r="2.25" fill="none" stroke="#333" stroke-width="1.1"/>
<circle cx="98.60" cy="359.80" r="2.25" fill="none" stroke="#333" stroke-width="1.1"/>
<circle cx="86.50" cy="368.20" r="2.25" fill="none" stroke="#333" stroke-width="1.1"/>
<circle cx="95.60" cy="368.60" r="2.25" fill="none" stroke="#333" stroke-width="1.1"/>
<circle cx="119.50" cy="364.50" r="2.25" fill="none" stroke="#333" stroke-width="1.1"/>
<circle cx="124.40" cy="330.20" r="2.25" fill="none" stroke="#333" stroke-width="1.1"/>
<circle cx="153.90" cy="324.20" r="2.25" fill="none" stroke="#333" stroke-width="1.1"/>
<circle cx="156.80" cy="328.90" r="2.25" fill="none" stroke="#333" stroke-width="1.1"/>
<circle cx="137.50" cy="334.00" r="2.25" fill="none" stroke="#333" stroke-width="1.1"/>
<circle cx="144.40" cy="334.20" r="2.25" fill="none" stroke="#333" stroke-width="1.1"/>
<circle cx="154.50" cy="337.20" r="2.25" fill="none" stroke="#333" stroke-width="1.1"/>
<circle cx="158.60" cy="339.00" r="2.25" fill="none" stroke="#333" stroke-width="1.1"/>
<circle cx="165.70" cy="337.20" r="2.25" fill="none" stroke="#333" stroke-width="1.1"/>
<circle cx="130.20" cy="339.60" r="2.25" fill="none" stroke="#333" stroke-width="1.1"/>
<circle cx="141.40" cy="338.40" r="2.25" fill="none" stroke="#333" stroke-width="1.1"/>
<circle cx="141.10" cy="346.70" r="2.25" fill="none" stroke="#333" stroke-width="1.1"/>
<circle cx="158.60" cy="345.90" r="2.25" fill="none" stroke="#333" stroke-width="1.1"/>
<circle cx="153.90" cy="352.00" r="2.25" fill="none" stroke="#333" stroke-width="1.1"/>
<circle cx="162.20" cy="353.80" r="2.25" fill="none" stroke="#333" stroke-width="1.1"/>
<circle cx="118.30" cy="348.50" r="2.25" fill="none" stroke="#333" stroke-width="1.1"/>
<circle cx="131.30" cy="349.10" r="2.25" fill="none" stroke="#333" stroke-width="1.1"/>
<circle cx="125.40" cy="354.40" r="2.25" fill="none" stroke="#333" stroke-width="1.1"/>
<circle cx="129.00" cy="352.00" r="2.25" fill="none" stroke="#333" stroke-width="1.1"/>
<circle cx="126.00" cy="366.20" r="2.25" fill="none" stroke="#333" stroke-width="1.1"/>
<circle cx="129.60" cy="363.90" r="2.25" fill="none" stroke="#333" stroke-width="1.1"/>
<circle cx="136.70" cy="368.00" r="2.25" fill="none" stroke="#333" stroke-width="1.1"/>
<circle cx="137.30" cy="333.90" r="2.25" fill="none" stroke="#333" stroke-width="1.1"/>
<rect x="225.40" y="271.80" width="4.20" height="4.20" fill="none" stroke="#ff1a1a" stroke-width="1.1"/>
<rect x="216.80" y="272.20" width="4.20" height="4.20" fill="none" stroke="#ff1a1a" stroke-width="1.1"/>
<rect x="214.00" y="279.40" width="4.20" height="4.20" fill="none" stroke="#ff1a1a" stroke-width="1.1"/>
<rect x="217.40" y="279.00" width="4.20" height="4.20" fill="none" stroke="#ff1a1a" stroke-width="1.1"/>
<rect x="192.20" y="292.70" width="4.20" height="4.20" fill="none" stroke="#ff1a1a" stroke-width="1.1"/>
<rect x="176.50" y="278.20" width="4.20" height="4.20" fill="none" stroke="#ff1a1a" stroke-width="1.1"/>
<rect x="171.80" y="300.30" width="4.20" height="4.20" fill="none" stroke="#ff1a1a" stroke-width="1.1"/>
<rect x="156.00" y="303.30" width="4.20" height="4.20" fill="none" stroke="#ff1a1a" stroke-width="1.1"/>
<rect x="151.50" y="307.80" width="4.20" height="4.20" fill="none" stroke="#ff1a1a" stroke-width="1.1"/>
<rect x="162.50" y="307.80" width="4.20" height="4.20" fill="none" stroke="#ff1a1a" stroke-width="1.1"/>
<rect x="173.50" y="316.90" width="4.20" height="4.20" fill="none" stroke="#ff1a1a" stroke-width="1.1"/>
<rect x="154.70" y="318.40" width="4.20" height="4.20" fill="none" stroke="#ff1a1a" stroke-width="1.1"/>
<rect x="176.10" y="331.80" width="4.20" height="4.20" fill="none" stroke="#ff1a1a" stroke-width="1.1"/>
<rect x="156.70" y="331.10" width="4.20" height="4.20" fill="none" stroke="#ff1a1a" stroke-width="1.1"/>
<rect x="168.70" y="332.90" width="4.20" height="4.20" fill="none" stroke="#ff1a1a" stroke-width="1.1"/>
<rect x="176.50" y="333.60" width="4.20" height="4.20" fill="none" stroke="#ff1a1a" stroke-width="1.1"/>
<rect x="164.20" y="338.40" width="4.20" height="4.20" fill="none" stroke="#ff1a1a" stroke-width="1.1"/>
<rect x="182.00" y="351.70" width="4.20" height="4.20" fill="none" stroke="#ff1a1a" stroke-width="1.1"/>
<rect x="96.50" y="349.60" width="4.20" height="4.20" fill="none" stroke="#ff1a1a" stroke-width="1.1"/>
<rect x="93.50" y="352.70" width="4.20" height="4.20" fill="none" stroke="#ff1a1a" stroke-width="1.1"/>
<rect x="112.00" y="366.70" width="4.20" height="4.20" fill="none" stroke="#ff1a1a" stroke-width="1.1"/>
<rect x="84.40" y="381.90" width="4.20" height="4.20" fill="none" stroke="#ff1a1a" stroke-width="1.1"/>
<rect x="117.40" y="385.30" width="4.20" height="4.20" fill="none" stroke="#ff1a1a" stroke-width="1.1"/>
<rect x="122.10" y="326.40" width="4.20" height="4.20" fill="none" stroke="#ff1a1a" stroke-width="1.1"/>
<rect x="135.20" y="323.80" width="4.20" height="4.20" fill="none" stroke="#ff1a1a" stroke-width="1.1"/>
<rect x="139.00" y="326.40" width="4.20" height="4.20" fill="none" stroke="#ff1a1a" stroke-width="1.1"/>
<rect x="154.10" y="319.10" width="4.20" height="4.20" fill="none" stroke="#ff1a1a" stroke-width="1.1"/>
<rect x="142.90" y="333.90" width="4.20" height="4.20" fill="none" stroke="#ff1a1a" stroke-width="1.1"/>
<rect x="145.90" y="335.70" width="4.20" height="4.20" fill="none" stroke="#ff1a1a" stroke-width="1.1"/>
<rect x="156.50" y="332.10" width="4.20" height="4.20" fill="none" stroke="#ff1a1a" stroke-width="1.1"/>
<rect x="119.80" y="339.80" width="4.20" height="4.20" fill="none" stroke="#ff1a1a" stroke-width="1.1"/>
<rect x="120.90" y="341.60" width="4.20" height="4.20" fill="none" stroke="#ff1a1a" stroke-width="1.1"/>
<rect x="129.80" y="337.50" width="4.20" height="4.20" fill="none" stroke="#ff1a1a" stroke-width="1.1"/>
<rect x="139.30" y="338.70" width="4.20" height="4.20" fill="none" stroke="#ff1a1a" stroke-width="1.1"/>
<rect x="117.40" y="349.90" width="4.20" height="4.20" fill="none" stroke="#ff1a1a" stroke-width="1.1"/>
<rect x="120.90" y="347.50" width="4.20" height="4.20" fill="none" stroke="#ff1a1a" stroke-width="1.1"/>
<rect x="125.70" y="349.30" width="4.20" height="4.20" fill="none" stroke="#ff1a1a" stroke-width="1.1"/>
<rect x="128.70" y="347.50" width="4.20" height="4.20" fill="none" stroke="#ff1a1a" stroke-width="1.1"/>
<rect x="134.60" y="351.70" width="4.20" height="4.20" fill="none" stroke="#ff1a1a" stroke-width="1.1"/>
<rect x="124.50" y="354.70" width="4.20" height="4.20" fill="none" stroke="#ff1a1a" stroke-width="1.1"/>
<rect x="127.50" y="353.50" width="4.20" height="4.20" fill="none" stroke="#ff1a1a" stroke-width="1.1"/>
<rect x="123.30" y="358.80" width="4.20" height="4.20" fill="none" stroke="#ff1a1a" stroke-width="1.1"/>
<rect x="123.90" y="361.20" width="4.20" height="4.20" fill="none" stroke="#ff1a1a" stroke-width="1.1"/>
<rect x="118.40" y="347.80" width="4.20" height="4.20" fill="none" stroke="#ff1a1a" stroke-width="1.1"/>
<rect x="125.50" y="354.30" width="4.20" height="4.20" fill="none" stroke="#ff1a1a" stroke-width="1.1"/>
<rect x="127.50" y="351.70" width="4.20" height="4.20" fill="none" stroke="#ff1a1a" stroke-width="1.1"/>
<rect x="123.60" y="357.50" width="4.20" height="4.20" fill="none" stroke="#ff1a1a" stroke-width="1.1"/>
<rect x="117.10" y="351.00" width="4.20" height="4.20" fill="none" stroke="#ff1a1a" stroke-width="1.1"/>
<path d="M243.00,261.26 L245.25,265.42 L240.75,265.42 Z" fill="none" stroke="#2f62ff" stroke-width="1.15" stroke-linejoin="round"/>
<path d="M238.00,271.26 L240.25,275.42 L235.75,275.42 Z" fill="none" stroke="#2f62ff" stroke-width="1.15" stroke-linejoin="round"/>
<path d="M221.60,268.46 L223.85,272.62 L219.35,272.62 Z" fill="none" stroke="#2f62ff" stroke-width="1.15" stroke-linejoin="round"/>
<path d="M182.50,268.46 L184.75,272.62 L180.25,272.62 Z" fill="none" stroke="#2f62ff" stroke-width="1.15" stroke-linejoin="round"/>
<path d="M219.80,289.86 L222.05,294.02 L217.55,294.02 Z" fill="none" stroke="#2f62ff" stroke-width="1.15" stroke-linejoin="round"/>
<path d="M198.90,307.86 L201.15,312.02 L196.65,312.02 Z" fill="none" stroke="#2f62ff" stroke-width="1.15" stroke-linejoin="round"/>
<path d="M203.70,304.96 L205.95,309.12 L201.45,309.12 Z" fill="none" stroke="#2f62ff" stroke-width="1.15" stroke-linejoin="round"/>
<path d="M156.80,303.66 L159.05,307.82 L154.55,307.82 Z" fill="none" stroke="#2f62ff" stroke-width="1.15" stroke-linejoin="round"/>
<path d="M158.80,311.46 L161.05,315.62 L156.55,315.62 Z" fill="none" stroke="#2f62ff" stroke-width="1.15" stroke-linejoin="round"/>
<path d="M151.90,316.16 L154.15,320.32 L149.65,320.32 Z" fill="none" stroke="#2f62ff" stroke-width="1.15" stroke-linejoin="round"/>
<path d="M165.90,317.06 L168.15,321.22 L163.65,321.22 Z" fill="none" stroke="#2f62ff" stroke-width="1.15" stroke-linejoin="round"/>
<path d="M157.50,322.06 L159.75,326.22 L155.25,326.22 Z" fill="none" stroke="#2f62ff" stroke-width="1.15" stroke-linejoin="round"/>
<path d="M170.40,322.66 L172.65,326.82 L168.15,326.82 Z" fill="none" stroke="#2f62ff" stroke-width="1.15" stroke-linejoin="round"/>
<path d="M140.60,323.36 L142.85,327.52 L138.35,327.52 Z" fill="none" stroke="#2f62ff" stroke-width="1.15" stroke-linejoin="round"/>
<path d="M110.70,334.96 L112.95,339.12 L108.45,339.12 Z" fill="none" stroke="#2f62ff" stroke-width="1.15" stroke-linejoin="round"/>
<path d="M92.60,342.36 L94.85,346.52 L90.35,346.52 Z" fill="none" stroke="#2f62ff" stroke-width="1.15" stroke-linejoin="round"/>
<path d="M81.30,348.86 L83.55,353.02 L79.05,353.02 Z" fill="none" stroke="#2f62ff" stroke-width="1.15" stroke-linejoin="round"/>
<path d="M86.50,350.46 L88.75,354.62 L84.25,354.62 Z" fill="none" stroke="#2f62ff" stroke-width="1.15" stroke-linejoin="round"/>
<path d="M74.90,351.36 L77.15,355.52 L72.65,355.52 Z" fill="none" stroke="#2f62ff" stroke-width="1.15" stroke-linejoin="round"/>
<path d="M74.20,357.36 L76.45,361.52 L71.95,361.52 Z" fill="none" stroke="#2f62ff" stroke-width="1.15" stroke-linejoin="round"/>
<path d="M91.30,357.36 L93.55,361.52 L89.05,361.52 Z" fill="none" stroke="#2f62ff" stroke-width="1.15" stroke-linejoin="round"/>
<path d="M107.20,352.46 L109.45,356.62 L104.95,356.62 Z" fill="none" stroke="#2f62ff" stroke-width="1.15" stroke-linejoin="round"/>
<path d="M105.90,354.36 L108.15,358.52 L103.65,358.52 Z" fill="none" stroke="#2f62ff" stroke-width="1.15" stroke-linejoin="round"/>
<path d="M104.00,362.16 L106.25,366.32 L101.75,366.32 Z" fill="none" stroke="#2f62ff" stroke-width="1.15" stroke-linejoin="round"/>
<path d="M116.30,355.06 L118.55,359.22 L114.05,359.22 Z" fill="none" stroke="#2f62ff" stroke-width="1.15" stroke-linejoin="round"/>
<path d="M89.80,386.16 L92.05,390.32 L87.55,390.32 Z" fill="none" stroke="#2f62ff" stroke-width="1.15" stroke-linejoin="round"/>
<path d="M113.30,319.66 L115.55,323.82 L111.05,323.82 Z" fill="none" stroke="#2f62ff" stroke-width="1.15" stroke-linejoin="round"/>
<path d="M127.60,322.06 L129.85,326.22 L125.35,326.22 Z" fill="none" stroke="#2f62ff" stroke-width="1.15" stroke-linejoin="round"/>
<path d="M132.50,326.36 L134.75,330.52 L130.25,330.52 Z" fill="none" stroke="#2f62ff" stroke-width="1.15" stroke-linejoin="round"/>
<path d="M139.10,322.56 L141.35,326.72 L136.85,326.72 Z" fill="none" stroke="#2f62ff" stroke-width="1.15" stroke-linejoin="round"/>
<path d="M157.40,322.56 L159.65,326.72 L155.15,326.72 Z" fill="none" stroke="#2f62ff" stroke-width="1.15" stroke-linejoin="round"/>
<path d="M126.60,332.36 L128.85,336.52 L124.35,336.52 Z" fill="none" stroke="#2f62ff" stroke-width="1.15" stroke-linejoin="round"/>
<path d="M162.80,338.66 L165.05,342.82 L160.55,342.82 Z" fill="none" stroke="#2f62ff" stroke-width="1.15" stroke-linejoin="round"/>
<path d="M111.20,335.06 L113.45,339.22 L108.95,339.22 Z" fill="none" stroke="#2f62ff" stroke-width="1.15" stroke-linejoin="round"/>
<path d="M126.60,337.46 L128.85,341.62 L124.35,341.62 Z" fill="none" stroke="#2f62ff" stroke-width="1.15" stroke-linejoin="round"/>
<path d="M147.70,341.56 L149.95,345.72 L145.45,345.72 Z" fill="none" stroke="#2f62ff" stroke-width="1.15" stroke-linejoin="round"/>
<path d="M158.60,347.46 L160.85,351.62 L156.35,351.62 Z" fill="none" stroke="#2f62ff" stroke-width="1.15" stroke-linejoin="round"/>
<path d="M153.90,354.06 L156.15,358.22 L151.65,358.22 Z" fill="none" stroke="#2f62ff" stroke-width="1.15" stroke-linejoin="round"/>
<path d="M157.40,352.86 L159.65,357.02 L155.15,357.02 Z" fill="none" stroke="#2f62ff" stroke-width="1.15" stroke-linejoin="round"/>
<path d="M116.50,346.36 L118.75,350.52 L114.25,350.52 Z" fill="none" stroke="#2f62ff" stroke-width="1.15" stroke-linejoin="round"/>
<path d="M117.10,355.26 L119.35,359.42 L114.85,359.42 Z" fill="none" stroke="#2f62ff" stroke-width="1.15" stroke-linejoin="round"/>
<path d="M133.20,299.56 L135.45,303.72 L130.95,303.72 Z" fill="none" stroke="#2f62ff" stroke-width="1.15" stroke-linejoin="round"/>
<path d="M127.10,307.16 L129.35,311.32 L124.85,311.32 Z" fill="none" stroke="#2f62ff" stroke-width="1.15" stroke-linejoin="round"/>
<path d="M132.40,306.66 L134.65,310.82 L130.15,310.82 Z" fill="none" stroke="#2f62ff" stroke-width="1.15" stroke-linejoin="round"/>
<path d="M113.10,319.46 L115.35,323.62 L110.85,323.62 Z" fill="none" stroke="#2f62ff" stroke-width="1.15" stroke-linejoin="round"/>
<path d="M127.30,322.26 L129.55,326.42 L125.05,326.42 Z" fill="none" stroke="#2f62ff" stroke-width="1.15" stroke-linejoin="round"/>
<path d="M132.40,326.06 L134.65,330.22 L130.15,330.22 Z" fill="none" stroke="#2f62ff" stroke-width="1.15" stroke-linejoin="round"/>
<path d="M139.30,375.66 L141.55,379.82 L137.05,379.82 Z" fill="none" stroke="#2f62ff" stroke-width="1.15" stroke-linejoin="round"/>
<path d="M144.00,378.26 L146.25,382.42 L141.75,382.42 Z" fill="none" stroke="#2f62ff" stroke-width="1.15" stroke-linejoin="round"/>
<line x1="86.5" y1="374.6" x2="227.5" y2="287.8" stroke="#1a1a1a" stroke-width="1.5" stroke-dasharray="4 3.5"/>
<line x1="86.5" y1="377.2" x2="227.3" y2="277.8" stroke="#ff1a1a" stroke-width="1.5" stroke-dasharray="4 3.5"/>
<line x1="73.6" y1="366.9" x2="242.9" y2="277.9" stroke="#1a1aff" stroke-width="1.5" stroke-dasharray="4 3.5"/>
<circle cx="513.10" cy="247.90" r="2.25" fill="none" stroke="#333" stroke-width="1.1"/>
<circle cx="501.80" cy="251.00" r="2.25" fill="none" stroke="#333" stroke-width="1.1"/>
<circle cx="504.90" cy="261.80" r="2.25" fill="none" stroke="#333" stroke-width="1.1"/>
<circle cx="480.10" cy="262.40" r="2.25" fill="none" stroke="#333" stroke-width="1.1"/>
<circle cx="463.90" cy="273.40" r="2.25" fill="none" stroke="#333" stroke-width="1.1"/>
<circle cx="504.10" cy="287.60" r="2.25" fill="none" stroke="#333" stroke-width="1.1"/>
<circle cx="443.70" cy="295.10" r="2.25" fill="none" stroke="#333" stroke-width="1.1"/>
<circle cx="450.50" cy="298.00" r="2.25" fill="none" stroke="#333" stroke-width="1.1"/>
<circle cx="426.50" cy="300.90" r="2.25" fill="none" stroke="#333" stroke-width="1.1"/>
<circle cx="381.50" cy="313.90" r="2.25" fill="none" stroke="#333" stroke-width="1.1"/>
<circle cx="384.30" cy="316.50" r="2.25" fill="none" stroke="#333" stroke-width="1.1"/>
<circle cx="372.70" cy="349.30" r="2.25" fill="none" stroke="#333" stroke-width="1.1"/>
<circle cx="398.60" cy="339.80" r="2.25" fill="none" stroke="#333" stroke-width="1.1"/>
<circle cx="411.80" cy="328.80" r="2.25" fill="none" stroke="#333" stroke-width="1.1"/>
<circle cx="408.10" cy="332.30" r="2.25" fill="none" stroke="#333" stroke-width="1.1"/>
<circle cx="418.20" cy="331.40" r="2.25" fill="none" stroke="#333" stroke-width="1.1"/>
<circle cx="426.60" cy="324.90" r="2.25" fill="none" stroke="#333" stroke-width="1.1"/>
<circle cx="399.50" cy="340.10" r="2.25" fill="none" stroke="#333" stroke-width="1.1"/>
<circle cx="411.10" cy="338.10" r="2.25" fill="none" stroke="#333" stroke-width="1.1"/>
<circle cx="422.40" cy="347.20" r="2.25" fill="none" stroke="#333" stroke-width="1.1"/>
<circle cx="405.90" cy="348.20" r="2.25" fill="none" stroke="#333" stroke-width="1.1"/>
<circle cx="412.80" cy="351.70" r="2.25" fill="none" stroke="#333" stroke-width="1.1"/>
<circle cx="414.30" cy="354.70" r="2.25" fill="none" stroke="#333" stroke-width="1.1"/>
<circle cx="405.50" cy="359.80" r="2.25" fill="none" stroke="#333" stroke-width="1.1"/>
<circle cx="411.80" cy="359.10" r="2.25" fill="none" stroke="#333" stroke-width="1.1"/>
<circle cx="445.20" cy="304.20" r="2.25" fill="none" stroke="#333" stroke-width="1.1"/>
<circle cx="456.20" cy="303.60" r="2.25" fill="none" stroke="#333" stroke-width="1.1"/>
<circle cx="451.70" cy="307.50" r="2.25" fill="none" stroke="#333" stroke-width="1.1"/>
<circle cx="440.10" cy="308.10" r="2.25" fill="none" stroke="#333" stroke-width="1.1"/>
<circle cx="422.80" cy="310.40" r="2.25" fill="none" stroke="#333" stroke-width="1.1"/>
<circle cx="442.60" cy="315.20" r="2.25" fill="none" stroke="#333" stroke-width="1.1"/>
<circle cx="440.10" cy="317.20" r="2.25" fill="none" stroke="#333" stroke-width="1.1"/>
<circle cx="440.10" cy="321.00" r="2.25" fill="none" stroke="#333" stroke-width="1.1"/>
<circle cx="462.00" cy="321.00" r="2.25" fill="none" stroke="#333" stroke-width="1.1"/>
<circle cx="470.20" cy="320.80" r="2.25" fill="none" stroke="#333" stroke-width="1.1"/>
<circle cx="460.80" cy="324.90" r="2.25" fill="none" stroke="#333" stroke-width="1.1"/>
<circle cx="444.60" cy="324.30" r="2.25" fill="none" stroke="#333" stroke-width="1.1"/>
<circle cx="427.10" cy="324.90" r="2.25" fill="none" stroke="#333" stroke-width="1.1"/>
<circle cx="431.00" cy="335.50" r="2.25" fill="none" stroke="#333" stroke-width="1.1"/>
<circle cx="447.80" cy="334.20" r="2.25" fill="none" stroke="#333" stroke-width="1.1"/>
<circle cx="416.40" cy="303.60" r="2.25" fill="none" stroke="#333" stroke-width="1.1"/>
<circle cx="410.50" cy="305.00" r="2.25" fill="none" stroke="#333" stroke-width="1.1"/>
<circle cx="408.60" cy="306.80" r="2.25" fill="none" stroke="#333" stroke-width="1.1"/>
<rect x="454.40" y="251.40" width="4.20" height="4.20" fill="none" stroke="#ff1a1a" stroke-width="1.1"/>
<rect x="452.20" y="263.10" width="4.20" height="4.20" fill="none" stroke="#ff1a1a" stroke-width="1.1"/>
<rect x="478.80" y="265.40" width="4.20" height="4.20" fill="none" stroke="#ff1a1a" stroke-width="1.1"/>
<rect x="469.20" y="270.50" width="4.20" height="4.20" fill="none" stroke="#ff1a1a" stroke-width="1.1"/>
<rect x="468.30" y="274.20" width="4.20" height="4.20" fill="none" stroke="#ff1a1a" stroke-width="1.1"/>
<rect x="478.50" y="281.30" width="4.20" height="4.20" fill="none" stroke="#ff1a1a" stroke-width="1.1"/>
<rect x="485.80" y="286.00" width="4.20" height="4.20" fill="none" stroke="#ff1a1a" stroke-width="1.1"/>
<rect x="461.80" y="287.80" width="4.20" height="4.20" fill="none" stroke="#ff1a1a" stroke-width="1.1"/>
<rect x="420.80" y="260.00" width="4.20" height="4.20" fill="none" stroke="#ff1a1a" stroke-width="1.1"/>
<rect x="425.20" y="262.00" width="4.20" height="4.20" fill="none" stroke="#ff1a1a" stroke-width="1.1"/>
<rect x="409.90" y="266.80" width="4.20" height="4.20" fill="none" stroke="#ff1a1a" stroke-width="1.1"/>
<rect x="414.30" y="266.10" width="4.20" height="4.20" fill="none" stroke="#ff1a1a" stroke-width="1.1"/>
<rect x="419.40" y="270.40" width="4.20" height="4.20" fill="none" stroke="#ff1a1a" stroke-width="1.1"/>
<rect x="436.10" y="262.40" width="4.20" height="4.20" fill="none" stroke="#ff1a1a" stroke-width="1.1"/>
<rect x="441.90" y="266.10" width="4.20" height="4.20" fill="none" stroke="#ff1a1a" stroke-width="1.1"/>
<rect x="445.50" y="266.80" width="4.20" height="4.20" fill="none" stroke="#ff1a1a" stroke-width="1.1"/>
<rect x="452.10" y="262.40" width="4.20" height="4.20" fill="none" stroke="#ff1a1a" stroke-width="1.1"/>
<rect x="428.80" y="274.80" width="4.20" height="4.20" fill="none" stroke="#ff1a1a" stroke-width="1.1"/>
<rect x="433.20" y="273.60" width="4.20" height="4.20" fill="none" stroke="#ff1a1a" stroke-width="1.1"/>
<rect x="382.40" y="285.10" width="4.20" height="4.20" fill="none" stroke="#ff1a1a" stroke-width="1.1"/>
<rect x="396.80" y="284.30" width="4.20" height="4.20" fill="none" stroke="#ff1a1a" stroke-width="1.1"/>
<rect x="411.10" y="282.40" width="4.20" height="4.20" fill="none" stroke="#ff1a1a" stroke-width="1.1"/>
<rect x="431.40" y="286.20" width="4.20" height="4.20" fill="none" stroke="#ff1a1a" stroke-width="1.1"/>
<rect x="428.10" y="288.60" width="4.20" height="4.20" fill="none" stroke="#ff1a1a" stroke-width="1.1"/>
<rect x="430.30" y="293.00" width="4.20" height="4.20" fill="none" stroke="#ff1a1a" stroke-width="1.1"/>
<rect x="436.80" y="293.00" width="4.20" height="4.20" fill="none" stroke="#ff1a1a" stroke-width="1.1"/>
<rect x="447.40" y="288.80" width="4.20" height="4.20" fill="none" stroke="#ff1a1a" stroke-width="1.1"/>
<rect x="379.20" y="297.60" width="4.20" height="4.20" fill="none" stroke="#ff1a1a" stroke-width="1.1"/>
<rect x="428.80" y="298.80" width="4.20" height="4.20" fill="none" stroke="#ff1a1a" stroke-width="1.1"/>
<rect x="350.20" y="296.80" width="4.20" height="4.20" fill="none" stroke="#ff1a1a" stroke-width="1.1"/>
<rect x="395.20" y="315.70" width="4.20" height="4.20" fill="none" stroke="#ff1a1a" stroke-width="1.1"/>
<rect x="396.50" y="313.10" width="4.20" height="4.20" fill="none" stroke="#ff1a1a" stroke-width="1.1"/>
<rect x="361.30" y="323.90" width="4.20" height="4.20" fill="none" stroke="#ff1a1a" stroke-width="1.1"/>
<rect x="371.90" y="332.10" width="4.20" height="4.20" fill="none" stroke="#ff1a1a" stroke-width="1.1"/>
<rect x="401.20" y="326.70" width="4.20" height="4.20" fill="none" stroke="#ff1a1a" stroke-width="1.1"/>
<rect x="406.40" y="336.70" width="4.20" height="4.20" fill="none" stroke="#ff1a1a" stroke-width="1.1"/>
<rect x="412.20" y="332.40" width="4.20" height="4.20" fill="none" stroke="#ff1a1a" stroke-width="1.1"/>
<rect x="447.90" y="293.10" width="4.20" height="4.20" fill="none" stroke="#ff1a1a" stroke-width="1.1"/>
<rect x="461.90" y="288.50" width="4.20" height="4.20" fill="none" stroke="#ff1a1a" stroke-width="1.1"/>
<rect x="429.30" y="299.50" width="4.20" height="4.20" fill="none" stroke="#ff1a1a" stroke-width="1.1"/>
<rect x="470.90" y="303.20" width="4.20" height="4.20" fill="none" stroke="#ff1a1a" stroke-width="1.1"/>
<rect x="442.20" y="339.90" width="4.20" height="4.20" fill="none" stroke="#ff1a1a" stroke-width="1.1"/>
<rect x="492.50" y="323.10" width="4.20" height="4.20" fill="none" stroke="#ff1a1a" stroke-width="1.1"/>
<rect x="511.20" y="343.50" width="4.20" height="4.20" fill="none" stroke="#ff1a1a" stroke-width="1.1"/>
<rect x="441.50" y="350.30" width="4.20" height="4.20" fill="none" stroke="#ff1a1a" stroke-width="1.1"/>
<rect x="437.90" y="352.90" width="4.20" height="4.20" fill="none" stroke="#ff1a1a" stroke-width="1.1"/>
<rect x="453.50" y="364.40" width="4.20" height="4.20" fill="none" stroke="#ff1a1a" stroke-width="1.1"/>
<rect x="499.60" y="371.40" width="4.20" height="4.20" fill="none" stroke="#ff1a1a" stroke-width="1.1"/>
<rect x="502.30" y="395.70" width="4.20" height="4.20" fill="none" stroke="#ff1a1a" stroke-width="1.1"/>
<rect x="464.00" y="405.30" width="4.20" height="4.20" fill="none" stroke="#ff1a1a" stroke-width="1.1"/>
<rect x="368.90" y="278.30" width="4.20" height="4.20" fill="none" stroke="#ff1a1a" stroke-width="1.1"/>
<rect x="406.00" y="330.90" width="4.20" height="4.20" fill="none" stroke="#ff1a1a" stroke-width="1.1"/>
<rect x="412.00" y="305.60" width="4.20" height="4.20" fill="none" stroke="#ff1a1a" stroke-width="1.1"/>
<rect x="406.50" y="310.60" width="4.20" height="4.20" fill="none" stroke="#ff1a1a" stroke-width="1.1"/>
<path d="M504.40,251.46 L506.65,255.62 L502.15,255.62 Z" fill="none" stroke="#1a1aff" stroke-width="1.15" stroke-linejoin="round"/>
<path d="M501.80,260.76 L504.05,264.92 L499.55,264.92 Z" fill="none" stroke="#1a1aff" stroke-width="1.15" stroke-linejoin="round"/>
<path d="M513.10,260.76 L515.35,264.92 L510.85,264.92 Z" fill="none" stroke="#1a1aff" stroke-width="1.15" stroke-linejoin="round"/>
<path d="M469.80,267.66 L472.05,271.82 L467.55,271.82 Z" fill="none" stroke="#1a1aff" stroke-width="1.15" stroke-linejoin="round"/>
<path d="M456.50,274.66 L458.75,278.82 L454.25,278.82 Z" fill="none" stroke="#1a1aff" stroke-width="1.15" stroke-linejoin="round"/>
<path d="M460.00,274.66 L462.25,278.82 L457.75,278.82 Z" fill="none" stroke="#1a1aff" stroke-width="1.15" stroke-linejoin="round"/>
<path d="M461.00,274.16 L463.25,278.32 L458.75,278.32 Z" fill="none" stroke="#1a1aff" stroke-width="1.15" stroke-linejoin="round"/>
<path d="M463.90,283.86 L466.15,288.02 L461.65,288.02 Z" fill="none" stroke="#1a1aff" stroke-width="1.15" stroke-linejoin="round"/>
<path d="M504.50,288.96 L506.75,293.12 L502.25,293.12 Z" fill="none" stroke="#1a1aff" stroke-width="1.15" stroke-linejoin="round"/>
<path d="M411.30,293.96 L413.55,298.12 L409.05,298.12 Z" fill="none" stroke="#1a1aff" stroke-width="1.15" stroke-linejoin="round"/>
<path d="M443.70,288.76 L445.95,292.92 L441.45,292.92 Z" fill="none" stroke="#1a1aff" stroke-width="1.15" stroke-linejoin="round"/>
<path d="M451.30,293.66 L453.55,297.82 L449.05,297.82 Z" fill="none" stroke="#1a1aff" stroke-width="1.15" stroke-linejoin="round"/>
<path d="M439.60,295.86 L441.85,300.02 L437.35,300.02 Z" fill="none" stroke="#1a1aff" stroke-width="1.15" stroke-linejoin="round"/>
<path d="M384.30,333.06 L386.55,337.22 L382.05,337.22 Z" fill="none" stroke="#1a1aff" stroke-width="1.15" stroke-linejoin="round"/>
<path d="M372.90,363.16 L375.15,367.32 L370.65,367.32 Z" fill="none" stroke="#1a1aff" stroke-width="1.15" stroke-linejoin="round"/>
<path d="M411.80,332.06 L414.05,336.22 L409.55,336.22 Z" fill="none" stroke="#1a1aff" stroke-width="1.15" stroke-linejoin="round"/>
<path d="M423.40,330.56 L425.65,334.72 L421.15,334.72 Z" fill="none" stroke="#1a1aff" stroke-width="1.15" stroke-linejoin="round"/>
<path d="M427.30,330.56 L429.55,334.72 L425.05,334.72 Z" fill="none" stroke="#1a1aff" stroke-width="1.15" stroke-linejoin="round"/>
<path d="M416.30,341.16 L418.55,345.32 L414.05,345.32 Z" fill="none" stroke="#1a1aff" stroke-width="1.15" stroke-linejoin="round"/>
<path d="M399.50,349.96 L401.75,354.12 L397.25,354.12 Z" fill="none" stroke="#1a1aff" stroke-width="1.15" stroke-linejoin="round"/>
<path d="M408.10,351.26 L410.35,355.42 L405.85,355.42 Z" fill="none" stroke="#1a1aff" stroke-width="1.15" stroke-linejoin="round"/>
<path d="M409.80,359.26 L412.05,363.42 L407.55,363.42 Z" fill="none" stroke="#1a1aff" stroke-width="1.15" stroke-linejoin="round"/>
<path d="M381.40,378.36 L383.65,382.52 L379.15,382.52 Z" fill="none" stroke="#1a1aff" stroke-width="1.15" stroke-linejoin="round"/>
<path d="M447.80,302.76 L450.05,306.92 L445.55,306.92 Z" fill="none" stroke="#1a1aff" stroke-width="1.15" stroke-linejoin="round"/>
<path d="M462.00,302.36 L464.25,306.52 L459.75,306.52 Z" fill="none" stroke="#1a1aff" stroke-width="1.15" stroke-linejoin="round"/>
<path d="M464.00,303.16 L466.25,307.32 L461.75,307.32 Z" fill="none" stroke="#1a1aff" stroke-width="1.15" stroke-linejoin="round"/>
<path d="M464.00,307.26 L466.25,311.42 L461.75,311.42 Z" fill="none" stroke="#1a1aff" stroke-width="1.15" stroke-linejoin="round"/>
<path d="M480.20,307.56 L482.45,311.72 L477.95,311.72 Z" fill="none" stroke="#1a1aff" stroke-width="1.15" stroke-linejoin="round"/>
<path d="M422.60,312.46 L424.85,316.62 L420.35,316.62 Z" fill="none" stroke="#1a1aff" stroke-width="1.15" stroke-linejoin="round"/>
<path d="M426.50,312.16 L428.75,316.32 L424.25,316.32 Z" fill="none" stroke="#1a1aff" stroke-width="1.15" stroke-linejoin="round"/>
<path d="M430.40,312.66 L432.65,316.82 L428.15,316.82 Z" fill="none" stroke="#1a1aff" stroke-width="1.15" stroke-linejoin="round"/>
<path d="M440.10,309.86 L442.35,314.02 L437.85,314.02 Z" fill="none" stroke="#1a1aff" stroke-width="1.15" stroke-linejoin="round"/>
<path d="M445.90,311.76 L448.15,315.92 L443.65,315.92 Z" fill="none" stroke="#1a1aff" stroke-width="1.15" stroke-linejoin="round"/>
<path d="M440.10,315.06 L442.35,319.22 L437.85,319.22 Z" fill="none" stroke="#1a1aff" stroke-width="1.15" stroke-linejoin="round"/>
<path d="M450.40,320.86 L452.65,325.02 L448.15,325.02 Z" fill="none" stroke="#1a1aff" stroke-width="1.15" stroke-linejoin="round"/>
<path d="M433.60,321.76 L435.85,325.92 L431.35,325.92 Z" fill="none" stroke="#1a1aff" stroke-width="1.15" stroke-linejoin="round"/>
<path d="M443.30,330.56 L445.55,334.72 L441.05,334.72 Z" fill="none" stroke="#1a1aff" stroke-width="1.15" stroke-linejoin="round"/>
<path d="M442.60,332.46 L444.85,336.62 L440.35,336.62 Z" fill="none" stroke="#1a1aff" stroke-width="1.15" stroke-linejoin="round"/>
<path d="M413.20,313.36 L415.45,317.52 L410.95,317.52 Z" fill="none" stroke="#1a1aff" stroke-width="1.15" stroke-linejoin="round"/>
<path d="M418.20,312.86 L420.45,317.02 L415.95,317.02 Z" fill="none" stroke="#1a1aff" stroke-width="1.15" stroke-linejoin="round"/>
<path d="M405.50,313.76 L407.75,317.92 L403.25,317.92 Z" fill="none" stroke="#1a1aff" stroke-width="1.15" stroke-linejoin="round"/>
<path d="M405.90,316.96 L408.15,321.12 L403.65,321.12 Z" fill="none" stroke="#1a1aff" stroke-width="1.15" stroke-linejoin="round"/>
<line x1="372.3" y1="354.9" x2="510.3" y2="268.3" stroke="#1a1a1a" stroke-width="1.5" stroke-dasharray="4 3.5"/>
<line x1="352.9" y1="295.1" x2="514" y2="321" stroke="#ff1a1a" stroke-width="1.5" stroke-dasharray="4 3.5"/>
<line x1="372.9" y1="362" x2="511.8" y2="260.5" stroke="#1a1aff" stroke-width="1.5" stroke-dasharray="4 3.5"/>
<rect x="124.6" y="148.6" width="121.60" height="40.40" fill="#fff" stroke="#555" stroke-width="1.3"/>
<circle cx="130.20" cy="154.90" r="2.20" fill="none" stroke="#111" stroke-width="1.2"/>
<text x="137.80" y="157.80" class="lg" fill="#111" stroke="#111" stroke-width="0.15">LGBM</text>
<text x="167.60" y="157.80" class="lg" fill="#111" stroke="#111" stroke-width="0.15">R<tspan font-size="4.8px" dy="-3.2">2</tspan><tspan dy="3.2">=</tspan>0.83</text>
<text x="200.00" y="157.80" class="lg" fill="#111" stroke="#111" stroke-width="0.15" textLength="43.20" lengthAdjust="spacingAndGlyphs">RMSE=2.67</text>
<rect x="128.00" y="166.30" width="4.40" height="4.40" fill="none" stroke="#ff1a1a" stroke-width="1.2"/>
<text x="137.80" y="170.80" class="lg" fill="#ff1a1a" stroke="#ff1a1a" stroke-width="0.15">RF</text>
<text x="153.30" y="170.80" class="lg" fill="#ff1a1a" stroke="#ff1a1a" stroke-width="0.15">R<tspan font-size="4.8px" dy="-3.2">2</tspan><tspan dy="3.2">=</tspan>0.82</text>
<text x="185.60" y="170.80" class="lg" fill="#ff1a1a" stroke="#ff1a1a" stroke-width="0.15" textLength="42.60" lengthAdjust="spacingAndGlyphs">RMSE=2.61</text>
<path d="M130.20,180.11 L132.40,184.18 L128.00,184.18 Z" fill="none" stroke="#1a1aff" stroke-width="1.2" stroke-linejoin="round"/>
<text x="137.80" y="184.00" class="lg" fill="#1a1aff" stroke="#1a1aff" stroke-width="0.15">MPL</text>
<text x="161.00" y="184.00" class="lg" fill="#1a1aff" stroke="#1a1aff" stroke-width="0.15">R<tspan font-size="4.8px" dy="-3.2">2</tspan><tspan dy="3.2">=</tspan>0.69</text>
<text x="193.10" y="184.00" class="lg" fill="#1a1aff" stroke="#1a1aff" stroke-width="0.15" textLength="43.70" lengthAdjust="spacingAndGlyphs">RMSE=3.43</text>
<rect x="409.5" y="148.8" width="121.70" height="40.20" fill="#fff" stroke="#555" stroke-width="1.3"/>
<circle cx="416.50" cy="157.10" r="2.20" fill="none" stroke="#111" stroke-width="1.2"/>
<text x="424.60" y="158.90" class="lg" fill="#111" stroke="#111" stroke-width="0.15">KNN</text>
<text x="447.10" y="158.90" class="lg" fill="#111" stroke="#111" stroke-width="0.15">R<tspan font-size="4.8px" dy="-3.2">2</tspan><tspan dy="3.2">=</tspan>0.71</text>
<text x="479.50" y="158.90" class="lg" fill="#111" stroke="#111" stroke-width="0.15" textLength="43.80" lengthAdjust="spacingAndGlyphs">RMSE=3.39</text>
<rect x="414.30" y="167.00" width="4.40" height="4.40" fill="none" stroke="#ff1a1a" stroke-width="1.2"/>
<text x="424.60" y="171.80" class="lg" fill="#ff1a1a" stroke="#ff1a1a" stroke-width="0.15">RNN</text>
<text x="447.10" y="171.80" class="lg" fill="#ff1a1a" stroke="#ff1a1a" stroke-width="0.15">R<tspan font-size="4.8px" dy="-3.2">2</tspan><tspan dy="3.2">=</tspan>0.04</text>
<text x="479.50" y="171.80" class="lg" fill="#ff1a1a" stroke="#ff1a1a" stroke-width="0.15" textLength="43.80" lengthAdjust="spacingAndGlyphs">RMSE=6.95</text>
<path d="M416.50,181.11 L418.70,185.18 L414.30,185.18 Z" fill="none" stroke="#1a1aff" stroke-width="1.2" stroke-linejoin="round"/>
<text x="424.60" y="184.90" class="lg" fill="#1a1aff" stroke="#1a1aff" stroke-width="0.15">ANN</text>
<text x="447.10" y="184.90" class="lg" fill="#1a1aff" stroke="#1a1aff" stroke-width="0.15">R<tspan font-size="4.8px" dy="-3.2">2</tspan><tspan dy="3.2">=</tspan>0.87</text>
<text x="479.50" y="184.90" class="lg" fill="#1a1aff" stroke="#1a1aff" stroke-width="0.15" textLength="43.80" lengthAdjust="spacingAndGlyphs">RMSE=3.68</text>
<rect x="123.8" y="383.0" width="121.50" height="39.80" fill="#fff" stroke="#555" stroke-width="1.3"/>
<circle cx="129.30" cy="389.50" r="2.20" fill="none" stroke="#111" stroke-width="1.2"/>
<text x="137.00" y="391.70" class="lg" fill="#111" stroke="#111" stroke-width="0.15">LGBM</text>
<text x="167.20" y="391.70" class="lg" fill="#111" stroke="#111" stroke-width="0.15">R<tspan font-size="4.8px" dy="-3.2">2</tspan><tspan dy="3.2">=</tspan>0.71</text>
<text x="199.00" y="391.70" class="lg" fill="#111" stroke="#111" stroke-width="0.15" textLength="43.30" lengthAdjust="spacingAndGlyphs">RMSE=1.72</text>
<rect x="127.10" y="400.20" width="4.40" height="4.40" fill="none" stroke="#ff1a1a" stroke-width="1.2"/>
<text x="137.00" y="404.60" class="lg" fill="#ff1a1a" stroke="#ff1a1a" stroke-width="0.15">RF</text>
<text x="152.70" y="404.60" class="lg" fill="#ff1a1a" stroke="#ff1a1a" stroke-width="0.15">R<tspan font-size="4.8px" dy="-3.2">2</tspan><tspan dy="3.2">=</tspan>0.70</text>
<text x="184.20" y="404.60" class="lg" fill="#ff1a1a" stroke="#ff1a1a" stroke-width="0.15" textLength="44.10" lengthAdjust="spacingAndGlyphs">RMSE=1.66</text>
<path d="M129.30,414.11 L131.50,418.18 L127.10,418.18 Z" fill="none" stroke="#1a1aff" stroke-width="1.2" stroke-linejoin="round"/>
<text x="137.00" y="418.10" class="lg" fill="#1a1aff" stroke="#1a1aff" stroke-width="0.15">MPL</text>
<text x="160.30" y="418.10" class="lg" fill="#1a1aff" stroke="#1a1aff" stroke-width="0.15">R<tspan font-size="4.8px" dy="-3.2">2</tspan><tspan dy="3.2">=</tspan>0.56</text>
<text x="192.60" y="418.10" class="lg" fill="#1a1aff" stroke="#1a1aff" stroke-width="0.15" textLength="43.30" lengthAdjust="spacingAndGlyphs">RMSE=2.05</text>
<rect x="334.6" y="383.9" width="121.70" height="40.10" fill="#fff" stroke="#555" stroke-width="1.3"/>
<circle cx="341.60" cy="391.40" r="2.20" fill="none" stroke="#111" stroke-width="1.2"/>
<text x="349.70" y="394.00" class="lg" fill="#111" stroke="#111" stroke-width="0.15">KNN</text>
<text x="372.20" y="394.00" class="lg" fill="#111" stroke="#111" stroke-width="0.15">R<tspan font-size="4.8px" dy="-3.2">2</tspan><tspan dy="3.2">=</tspan>0.56</text>
<text x="404.30" y="394.00" class="lg" fill="#111" stroke="#111" stroke-width="0.15" textLength="43.80" lengthAdjust="spacingAndGlyphs">RMSE=1.92</text>
<rect x="339.40" y="402.50" width="4.40" height="4.40" fill="none" stroke="#ff1a1a" stroke-width="1.2"/>
<text x="349.70" y="407.00" class="lg" fill="#ff1a1a" stroke="#ff1a1a" stroke-width="0.15">RNN</text>
<text x="372.20" y="407.00" class="lg" fill="#ff1a1a" stroke="#ff1a1a" stroke-width="0.15">R<tspan font-size="4.8px" dy="-3.2">2</tspan><tspan dy="3.2">=</tspan>0.02</text>
<text x="404.30" y="407.00" class="lg" fill="#ff1a1a" stroke="#ff1a1a" stroke-width="0.15" textLength="43.80" lengthAdjust="spacingAndGlyphs">RMSE=5.59</text>
<path d="M341.60,416.41 L343.80,420.48 L339.40,420.48 Z" fill="none" stroke="#1a1aff" stroke-width="1.2" stroke-linejoin="round"/>
<text x="349.70" y="420.30" class="lg" fill="#1a1aff" stroke="#1a1aff" stroke-width="0.15">ANN</text>
<text x="372.20" y="420.30" class="lg" fill="#1a1aff" stroke="#1a1aff" stroke-width="0.15">R<tspan font-size="4.8px" dy="-3.2">2</tspan><tspan dy="3.2">=</tspan>0.68</text>
<text x="404.30" y="420.30" class="lg" fill="#1a1aff" stroke="#1a1aff" stroke-width="0.15" textLength="43.80" lengthAdjust="spacingAndGlyphs">RMSE=1.64</text>
</svg></body></html>
